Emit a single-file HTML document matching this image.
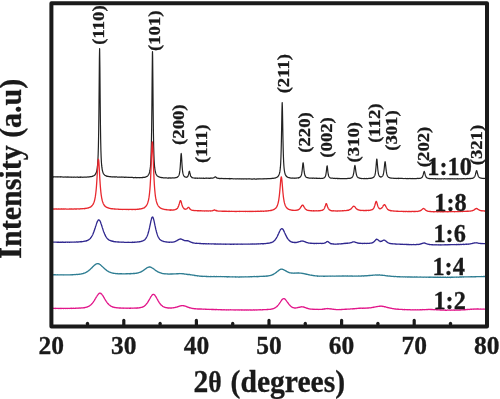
<!DOCTYPE html>
<html><head><meta charset="utf-8"><style>
html,body{margin:0;padding:0;background:#fff;}
body{width:500px;height:399px;overflow:hidden;}
svg{display:block;}
text{font-family:"Liberation Serif","Times New Roman",serif;font-weight:bold;fill:#1a1a1a;stroke:#1a1a1a;stroke-width:0.3px;}
.tk{font-size:25.5px;}
.hk{font-size:17px;}
.rt{font-size:24.3px;}
.ax{font-size:29.6px;}
</style></head><body>
<svg width="500" height="399" viewBox="0 0 500 399">
<rect x="0" y="0" width="500" height="399" fill="#fff"/>
<path d="M51.40 176.96 L51.65 176.60 L51.90 176.83 L52.15 176.75 L52.40 176.76 L52.65 176.78 L52.90 176.64 L53.15 176.78 L53.40 176.73 L53.65 177.07 L53.90 176.82 L54.15 176.78 L54.40 176.79 L54.65 176.76 L54.90 176.74 L55.15 176.79 L55.40 176.87 L55.65 176.82 L55.90 176.92 L56.15 176.83 L56.40 176.85 L56.65 176.98 L56.90 176.91 L57.15 176.83 L57.40 176.86 L57.65 176.92 L57.90 177.04 L58.15 176.87 L58.40 176.88 L58.65 176.98 L58.90 176.83 L59.15 176.89 L59.40 176.99 L59.65 176.97 L59.90 176.93 L60.15 176.99 L60.40 176.71 L60.65 177.02 L60.90 176.87 L61.15 176.82 L61.40 176.98 L61.65 177.02 L61.90 176.93 L62.15 176.89 L62.40 176.98 L62.65 176.98 L62.90 177.10 L63.15 177.05 L63.40 177.02 L63.65 177.09 L63.90 176.99 L64.15 176.94 L64.40 177.07 L64.65 177.07 L64.90 177.01 L65.15 176.97 L65.40 177.06 L65.65 176.85 L65.90 177.11 L66.15 177.10 L66.40 176.93 L66.65 177.07 L66.90 176.99 L67.15 177.14 L67.40 176.92 L67.65 177.01 L67.90 177.15 L68.15 177.19 L68.40 176.93 L68.65 177.06 L68.90 177.14 L69.15 177.07 L69.40 177.25 L69.65 177.03 L69.90 177.16 L70.15 177.05 L70.40 177.25 L70.65 177.14 L70.90 177.12 L71.15 177.01 L71.40 177.29 L71.65 177.22 L71.90 177.22 L72.15 177.26 L72.40 177.20 L72.65 177.13 L72.90 177.12 L73.15 177.12 L73.40 177.30 L73.65 177.08 L73.90 177.15 L74.15 177.17 L74.40 177.22 L74.65 177.25 L74.90 177.10 L75.15 177.06 L75.40 177.20 L75.65 177.30 L75.90 177.26 L76.15 177.22 L76.40 177.18 L76.65 177.23 L76.90 177.18 L77.15 177.27 L77.40 177.14 L77.65 177.21 L77.90 177.19 L78.15 177.25 L78.40 177.22 L78.65 177.41 L78.90 177.32 L79.15 177.32 L79.40 177.04 L79.65 177.17 L79.90 177.15 L80.15 177.24 L80.40 177.01 L80.65 177.29 L80.90 177.28 L81.15 177.08 L81.40 177.11 L81.65 177.12 L81.90 177.18 L82.15 177.23 L82.40 177.34 L82.65 177.16 L82.90 177.23 L83.15 177.18 L83.40 177.30 L83.65 177.22 L83.90 177.26 L84.15 177.06 L84.40 177.13 L84.65 177.07 L84.90 177.25 L85.15 177.17 L85.40 177.09 L85.65 177.07 L85.90 177.14 L86.15 177.03 L86.40 177.01 L86.65 177.11 L86.90 177.26 L87.15 177.03 L87.40 176.99 L87.65 176.93 L87.90 176.90 L88.15 177.03 L88.40 177.03 L88.65 176.94 L88.90 176.95 L89.15 176.90 L89.40 176.88 L89.65 176.71 L89.90 176.77 L90.15 176.78 L90.40 176.67 L90.65 176.66 L90.90 176.59 L91.15 176.58 L91.40 176.62 L91.65 176.47 L91.90 176.43 L92.15 176.44 L92.40 176.35 L92.65 176.36 L92.90 175.96 L93.15 176.10 L93.40 175.88 L93.65 175.80 L93.90 175.72 L94.15 175.58 L94.40 175.39 L94.65 175.11 L94.90 174.98 L95.15 174.54 L95.40 174.22 L95.65 173.89 L95.90 173.31 L96.15 172.95 L96.40 172.14 L96.65 171.35 L96.90 170.05 L97.15 168.57 L97.40 166.69 L97.65 164.12 L97.90 160.28 L98.15 154.81 L98.40 146.24 L98.65 133.10 L98.90 112.92 L99.15 85.77 L99.40 58.05 L99.60 48.60 L99.65 49.23 L99.90 68.02 L100.15 97.31 L100.40 121.96 L100.65 138.98 L100.90 150.15 L101.15 157.39 L101.40 161.98 L101.65 165.19 L101.90 167.46 L102.15 169.06 L102.40 170.55 L102.65 171.36 L102.90 172.36 L103.15 172.96 L103.40 173.58 L103.65 173.93 L103.90 174.23 L104.15 174.64 L104.40 174.83 L104.65 175.08 L104.90 175.30 L105.15 175.45 L105.40 175.60 L105.65 175.68 L105.90 175.84 L106.15 175.79 L106.40 176.04 L106.65 176.04 L106.90 176.30 L107.15 176.37 L107.40 176.18 L107.65 176.40 L107.90 176.43 L108.15 176.40 L108.40 176.56 L108.65 176.52 L108.90 176.45 L109.15 176.60 L109.40 176.64 L109.65 176.69 L109.90 176.60 L110.15 176.78 L110.40 176.81 L110.65 176.67 L110.90 176.73 L111.15 176.79 L111.40 176.77 L111.65 176.97 L111.90 176.86 L112.15 176.78 L112.40 176.80 L112.65 176.87 L112.90 177.07 L113.15 176.88 L113.40 176.92 L113.65 176.96 L113.90 176.92 L114.15 177.11 L114.40 176.89 L114.65 177.00 L114.90 176.96 L115.15 177.00 L115.40 176.86 L115.65 177.10 L115.90 176.96 L116.15 176.97 L116.40 176.90 L116.65 176.92 L116.90 177.02 L117.15 177.06 L117.40 177.05 L117.65 177.08 L117.90 177.05 L118.15 176.99 L118.40 177.06 L118.65 177.04 L118.90 176.99 L119.15 177.06 L119.40 177.10 L119.65 177.02 L119.90 176.97 L120.15 177.07 L120.40 177.17 L120.65 177.02 L120.90 177.04 L121.15 177.05 L121.40 177.17 L121.65 176.94 L121.90 177.13 L122.15 177.20 L122.40 177.06 L122.65 177.25 L122.90 177.19 L123.15 177.11 L123.40 177.18 L123.65 177.06 L123.90 177.15 L124.15 177.35 L124.40 177.14 L124.65 177.37 L124.90 177.23 L125.15 177.33 L125.40 177.26 L125.65 177.09 L125.90 177.23 L126.15 177.31 L126.40 177.21 L126.65 177.20 L126.90 177.35 L127.15 177.28 L127.40 177.21 L127.65 177.30 L127.90 177.43 L128.15 177.33 L128.40 177.46 L128.65 177.51 L128.90 177.40 L129.15 177.32 L129.40 177.32 L129.65 177.43 L129.90 177.51 L130.15 177.47 L130.40 177.50 L130.65 177.43 L130.90 177.50 L131.15 177.45 L131.40 177.47 L131.65 177.40 L131.90 177.38 L132.15 177.48 L132.40 177.44 L132.65 177.46 L132.90 177.60 L133.15 177.54 L133.40 177.79 L133.65 177.64 L133.90 177.52 L134.15 177.64 L134.40 177.61 L134.65 177.54 L134.90 177.69 L135.15 177.54 L135.40 177.36 L135.65 177.68 L135.90 177.57 L136.15 177.74 L136.40 177.58 L136.65 177.54 L136.90 177.76 L137.15 177.55 L137.40 177.66 L137.65 177.76 L137.90 177.66 L138.15 177.64 L138.40 177.66 L138.65 177.72 L138.90 177.59 L139.15 177.70 L139.40 177.69 L139.65 177.83 L139.90 177.62 L140.15 177.57 L140.40 177.69 L140.65 177.60 L140.90 177.65 L141.15 177.63 L141.40 177.70 L141.65 177.54 L141.90 177.58 L142.15 177.37 L142.40 177.48 L142.65 177.66 L142.90 177.46 L143.15 177.44 L143.40 177.37 L143.65 177.49 L143.90 177.43 L144.15 177.28 L144.40 177.38 L144.65 177.29 L144.90 177.28 L145.15 177.10 L145.40 177.22 L145.65 177.03 L145.90 176.90 L146.15 176.77 L146.40 176.68 L146.65 176.64 L146.90 176.41 L147.15 176.36 L147.40 176.13 L147.65 175.97 L147.90 175.68 L148.15 175.31 L148.40 174.81 L148.65 174.57 L148.90 174.11 L149.15 173.44 L149.40 172.71 L149.65 171.68 L149.90 170.47 L150.15 168.83 L150.40 166.89 L150.65 163.84 L150.90 159.51 L151.15 152.98 L151.40 143.04 L151.65 127.68 L151.90 104.89 L152.15 76.27 L152.40 53.96 L152.50 51.50 L152.65 56.90 L152.90 82.21 L153.15 110.10 L153.40 131.25 L153.65 145.50 L153.90 154.56 L154.15 160.68 L154.40 164.54 L154.65 167.44 L154.90 169.12 L155.15 170.85 L155.40 172.03 L155.65 172.84 L155.90 173.63 L156.15 174.25 L156.40 174.72 L156.65 175.04 L156.90 175.41 L157.15 175.80 L157.40 176.06 L157.65 176.18 L157.90 176.36 L158.15 176.54 L158.40 176.75 L158.65 176.70 L158.90 176.79 L159.15 177.01 L159.40 177.00 L159.65 177.12 L159.90 177.25 L160.15 177.34 L160.40 177.28 L160.65 177.48 L160.90 177.32 L161.15 177.55 L161.40 177.43 L161.65 177.49 L161.90 177.68 L162.15 177.62 L162.40 177.62 L162.65 177.68 L162.90 177.78 L163.15 177.76 L163.40 177.78 L163.65 177.89 L163.90 177.77 L164.15 177.81 L164.40 177.82 L164.65 177.97 L164.90 177.97 L165.15 178.01 L165.40 177.91 L165.65 177.92 L165.90 178.01 L166.15 177.92 L166.40 178.02 L166.65 178.02 L166.90 177.92 L167.15 177.98 L167.40 177.98 L167.65 178.13 L167.90 178.21 L168.15 178.00 L168.40 178.01 L168.65 177.83 L168.90 178.03 L169.15 178.02 L169.40 177.94 L169.65 178.09 L169.90 177.90 L170.15 178.01 L170.40 178.03 L170.65 177.92 L170.90 178.09 L171.15 178.10 L171.40 177.90 L171.65 177.90 L171.90 178.05 L172.15 177.99 L172.40 177.89 L172.65 177.95 L172.90 177.95 L173.15 177.94 L173.40 178.00 L173.65 177.95 L173.90 178.04 L174.15 177.99 L174.40 177.91 L174.65 177.91 L174.90 177.90 L175.15 177.82 L175.40 177.62 L175.65 177.74 L175.90 177.63 L176.15 177.69 L176.40 177.50 L176.65 177.45 L176.90 177.34 L177.15 177.34 L177.40 177.08 L177.65 176.88 L177.90 176.73 L178.15 176.43 L178.40 176.18 L178.65 175.77 L178.90 175.29 L179.15 174.74 L179.40 173.61 L179.65 172.32 L179.90 170.43 L180.15 167.91 L180.40 164.28 L180.65 160.07 L180.90 155.91 L181.15 153.57 L181.20 153.50 L181.40 154.63 L181.65 158.27 L181.90 162.77 L182.15 166.66 L182.40 169.50 L182.65 171.62 L182.90 173.15 L183.15 174.11 L183.40 174.92 L183.65 175.49 L183.90 175.95 L184.15 176.24 L184.40 176.39 L184.65 176.78 L184.90 176.97 L185.15 176.94 L185.40 177.08 L185.65 177.13 L185.90 177.21 L186.15 177.05 L186.40 177.30 L186.65 177.10 L186.90 177.17 L187.15 176.97 L187.40 176.77 L187.65 176.55 L187.90 176.27 L188.15 175.60 L188.40 174.90 L188.65 173.90 L188.90 172.62 L189.15 171.66 L189.40 171.20 L189.65 171.69 L189.90 172.91 L190.15 173.96 L190.40 175.06 L190.65 175.98 L190.90 176.49 L191.15 176.63 L191.40 176.83 L191.65 177.23 L191.90 177.55 L192.15 177.55 L192.40 177.66 L192.65 177.81 L192.90 177.75 L193.15 177.89 L193.40 177.98 L193.65 177.99 L193.90 178.02 L194.15 177.97 L194.40 178.08 L194.65 178.03 L194.90 178.18 L195.15 178.30 L195.40 178.05 L195.65 177.95 L195.90 178.10 L196.15 178.17 L196.40 178.24 L196.65 178.25 L196.90 178.10 L197.15 178.11 L197.40 178.28 L197.65 178.10 L197.90 178.28 L198.15 178.18 L198.40 178.26 L198.65 178.26 L198.90 178.27 L199.15 178.28 L199.40 178.14 L199.65 178.24 L199.90 178.22 L200.15 178.25 L200.40 178.32 L200.65 178.20 L200.90 178.17 L201.15 178.17 L201.40 178.21 L201.65 178.29 L201.90 178.17 L202.15 178.33 L202.40 178.26 L202.65 178.22 L202.90 178.13 L203.15 178.26 L203.40 178.29 L203.65 178.10 L203.90 178.33 L204.15 178.37 L204.40 178.27 L204.65 178.28 L204.90 178.43 L205.15 178.34 L205.40 178.17 L205.65 178.24 L205.90 178.22 L206.15 178.22 L206.40 178.05 L206.65 178.29 L206.90 178.18 L207.15 178.24 L207.40 178.22 L207.65 178.30 L207.90 178.20 L208.15 178.16 L208.40 178.27 L208.65 178.33 L208.90 178.19 L209.15 178.32 L209.40 178.23 L209.65 178.16 L209.90 178.32 L210.15 178.14 L210.40 178.28 L210.65 178.16 L210.90 178.24 L211.15 178.10 L211.40 178.13 L211.65 178.27 L211.90 178.20 L212.15 178.17 L212.40 178.12 L212.65 178.16 L212.90 177.98 L213.15 177.96 L213.40 177.97 L213.65 177.82 L213.90 177.71 L214.15 177.60 L214.40 177.39 L214.65 177.16 L214.90 177.10 L215.15 176.82 L215.30 176.80 L215.40 176.81 L215.65 176.91 L215.90 177.05 L216.15 177.37 L216.40 177.45 L216.65 177.75 L216.90 178.01 L217.15 178.18 L217.40 178.22 L217.65 178.13 L217.90 178.29 L218.15 178.22 L218.40 178.38 L218.65 178.33 L218.90 178.43 L219.15 178.59 L219.40 178.47 L219.65 178.60 L219.90 178.44 L220.15 178.41 L220.40 178.56 L220.65 178.60 L220.90 178.43 L221.15 178.49 L221.40 178.38 L221.65 178.48 L221.90 178.58 L222.15 178.51 L222.40 178.48 L222.65 178.42 L222.90 178.57 L223.15 178.61 L223.40 178.60 L223.65 178.58 L223.90 178.47 L224.15 178.72 L224.40 178.58 L224.65 178.58 L224.90 178.66 L225.15 178.43 L225.40 178.60 L225.65 178.60 L225.90 178.65 L226.15 178.74 L226.40 178.67 L226.65 178.49 L226.90 178.62 L227.15 178.67 L227.40 178.67 L227.65 178.56 L227.90 178.53 L228.15 178.72 L228.40 178.71 L228.65 178.68 L228.90 178.55 L229.15 178.84 L229.40 178.47 L229.65 178.68 L229.90 178.88 L230.15 178.71 L230.40 178.74 L230.65 178.63 L230.90 178.84 L231.15 178.64 L231.40 178.77 L231.65 178.76 L231.90 178.67 L232.15 178.83 L232.40 178.65 L232.65 178.72 L232.90 178.77 L233.15 178.75 L233.40 178.82 L233.65 178.87 L233.90 178.77 L234.15 178.76 L234.40 178.76 L234.65 178.78 L234.90 178.88 L235.15 178.80 L235.40 178.85 L235.65 178.81 L235.90 178.75 L236.15 178.89 L236.40 178.74 L236.65 178.83 L236.90 178.95 L237.15 178.75 L237.40 178.83 L237.65 178.71 L237.90 178.80 L238.15 178.73 L238.40 178.82 L238.65 178.81 L238.90 178.87 L239.15 178.98 L239.40 178.88 L239.65 178.92 L239.90 178.86 L240.15 178.85 L240.40 178.80 L240.65 178.73 L240.90 178.88 L241.15 179.01 L241.40 178.92 L241.65 178.84 L241.90 179.02 L242.15 178.86 L242.40 178.84 L242.65 178.80 L242.90 178.82 L243.15 178.88 L243.40 179.06 L243.65 178.89 L243.90 178.83 L244.15 178.86 L244.40 178.90 L244.65 178.78 L244.90 178.93 L245.15 178.98 L245.40 178.95 L245.65 178.97 L245.90 178.82 L246.15 178.79 L246.40 179.04 L246.65 179.02 L246.90 178.81 L247.15 178.96 L247.40 178.94 L247.65 178.99 L247.90 178.96 L248.15 178.91 L248.40 178.97 L248.65 178.97 L248.90 178.95 L249.15 178.81 L249.40 178.72 L249.65 178.90 L249.90 178.84 L250.15 178.99 L250.40 179.03 L250.65 178.99 L250.90 178.95 L251.15 178.98 L251.40 179.07 L251.65 178.92 L251.90 179.06 L252.15 179.04 L252.40 179.01 L252.65 179.11 L252.90 178.93 L253.15 179.07 L253.40 178.92 L253.65 178.94 L253.90 178.91 L254.15 179.03 L254.40 178.92 L254.65 178.99 L254.90 178.90 L255.15 179.07 L255.40 179.13 L255.65 178.99 L255.90 179.10 L256.15 179.01 L256.40 179.14 L256.65 178.97 L256.90 178.83 L257.15 179.07 L257.40 178.94 L257.65 178.86 L257.90 178.89 L258.15 178.80 L258.40 178.92 L258.65 178.84 L258.90 179.04 L259.15 178.97 L259.40 178.78 L259.65 178.79 L259.90 178.86 L260.15 178.74 L260.40 178.88 L260.65 178.88 L260.90 178.82 L261.15 178.83 L261.40 178.91 L261.65 178.98 L261.90 178.98 L262.15 178.86 L262.40 178.92 L262.65 178.79 L262.90 178.87 L263.15 178.76 L263.40 178.88 L263.65 178.72 L263.90 178.74 L264.15 178.81 L264.40 178.85 L264.65 178.68 L264.90 178.74 L265.15 178.79 L265.40 178.79 L265.65 178.70 L265.90 178.76 L266.15 178.73 L266.40 178.85 L266.65 178.78 L266.90 178.62 L267.15 178.54 L267.40 178.71 L267.65 178.79 L267.90 178.70 L268.15 178.75 L268.40 178.62 L268.65 178.54 L268.90 178.70 L269.15 178.64 L269.40 178.67 L269.65 178.49 L269.90 178.60 L270.15 178.52 L270.40 178.62 L270.65 178.49 L270.90 178.47 L271.15 178.46 L271.40 178.59 L271.65 178.47 L271.90 178.38 L272.15 178.34 L272.40 178.31 L272.65 178.48 L272.90 178.19 L273.15 178.24 L273.40 178.32 L273.65 178.33 L273.90 178.19 L274.15 178.22 L274.40 178.17 L274.65 178.14 L274.90 178.01 L275.15 178.07 L275.40 177.89 L275.65 177.92 L275.90 177.63 L276.15 177.70 L276.40 177.42 L276.65 177.28 L276.90 177.31 L277.15 177.05 L277.40 176.97 L277.65 176.64 L277.90 176.62 L278.15 176.21 L278.40 175.78 L278.65 175.48 L278.90 175.04 L279.15 174.29 L279.40 173.63 L279.65 172.78 L279.90 171.41 L280.15 169.62 L280.40 167.18 L280.65 163.82 L280.90 158.58 L281.15 151.03 L281.40 140.62 L281.65 126.64 L281.90 111.90 L282.15 102.89 L282.20 102.60 L282.40 106.95 L282.65 120.60 L282.90 135.37 L283.15 147.38 L283.40 156.02 L283.65 161.94 L283.90 165.96 L284.15 168.71 L284.40 170.76 L284.65 172.22 L284.90 173.02 L285.15 174.20 L285.40 174.66 L285.65 175.28 L285.90 175.55 L286.15 175.99 L286.40 176.28 L286.65 176.52 L286.90 176.79 L287.15 176.96 L287.40 176.98 L287.65 177.19 L287.90 177.37 L288.15 177.47 L288.40 177.48 L288.65 177.56 L288.90 177.64 L289.15 177.63 L289.40 177.67 L289.65 177.95 L289.90 177.83 L290.15 177.91 L290.40 177.88 L290.65 178.07 L290.90 178.14 L291.15 178.01 L291.40 178.09 L291.65 178.01 L291.90 178.22 L292.15 178.17 L292.40 178.05 L292.65 178.22 L292.90 178.16 L293.15 178.17 L293.40 178.18 L293.65 178.10 L293.90 178.11 L294.15 178.21 L294.40 178.15 L294.65 178.08 L294.90 178.32 L295.15 178.13 L295.40 178.10 L295.65 178.08 L295.90 178.18 L296.15 178.19 L296.40 178.12 L296.65 178.15 L296.90 177.94 L297.15 178.01 L297.40 177.98 L297.65 177.98 L297.90 177.98 L298.15 177.74 L298.40 178.10 L298.65 177.72 L298.90 177.75 L299.15 177.71 L299.40 177.61 L299.65 177.44 L299.90 177.04 L300.15 177.00 L300.40 176.92 L300.65 176.49 L300.90 176.08 L301.15 175.45 L301.40 175.00 L301.65 173.93 L301.90 172.41 L302.15 170.60 L302.40 168.23 L302.65 165.51 L302.90 163.44 L303.10 162.80 L303.15 162.84 L303.40 164.18 L303.65 166.65 L303.90 169.20 L304.15 171.45 L304.40 173.04 L304.65 174.22 L304.90 175.30 L305.15 175.82 L305.40 176.33 L305.65 176.73 L305.90 176.85 L306.15 177.20 L306.40 177.35 L306.65 177.44 L306.90 177.59 L307.15 177.59 L307.40 177.55 L307.65 177.77 L307.90 177.78 L308.15 177.97 L308.40 177.96 L308.65 177.93 L308.90 178.01 L309.15 178.14 L309.40 178.14 L309.65 178.10 L309.90 178.13 L310.15 178.09 L310.40 178.11 L310.65 178.18 L310.90 178.14 L311.15 178.18 L311.40 178.07 L311.65 178.04 L311.90 178.04 L312.15 178.15 L312.40 178.29 L312.65 178.28 L312.90 178.11 L313.15 178.07 L313.40 178.26 L313.65 178.24 L313.90 178.09 L314.15 178.29 L314.40 178.22 L314.65 178.31 L314.90 178.23 L315.15 178.28 L315.40 178.25 L315.65 178.17 L315.90 178.24 L316.15 178.22 L316.40 178.35 L316.65 178.22 L316.90 178.19 L317.15 178.38 L317.40 178.43 L317.65 178.46 L317.90 178.45 L318.15 178.25 L318.40 178.32 L318.65 178.35 L318.90 178.40 L319.15 178.23 L319.40 178.41 L319.65 178.44 L319.90 178.35 L320.15 178.44 L320.40 178.53 L320.65 178.44 L320.90 178.52 L321.15 178.51 L321.40 178.46 L321.65 178.45 L321.90 178.38 L322.15 178.48 L322.40 178.31 L322.65 178.24 L322.90 178.31 L323.15 178.13 L323.40 178.15 L323.65 178.12 L323.90 177.94 L324.15 177.81 L324.40 177.72 L324.65 177.50 L324.90 177.04 L325.15 176.69 L325.40 176.39 L325.65 175.57 L325.90 174.31 L326.15 172.87 L326.40 170.97 L326.65 168.49 L326.90 166.46 L327.10 165.80 L327.15 165.84 L327.40 167.18 L327.65 169.58 L327.90 171.97 L328.15 173.55 L328.40 175.02 L328.65 175.91 L328.90 176.51 L329.15 176.90 L329.40 177.13 L329.65 177.39 L329.90 177.70 L330.15 177.86 L330.40 177.99 L330.65 178.05 L330.90 178.12 L331.15 178.07 L331.40 178.06 L331.65 178.21 L331.90 178.27 L332.15 178.27 L332.40 178.17 L332.65 178.27 L332.90 178.21 L333.15 178.35 L333.40 178.27 L333.65 178.35 L333.90 178.40 L334.15 178.39 L334.40 178.50 L334.65 178.31 L334.90 178.23 L335.15 178.49 L335.40 178.53 L335.65 178.55 L335.90 178.47 L336.15 178.50 L336.40 178.47 L336.65 178.37 L336.90 178.43 L337.15 178.53 L337.40 178.45 L337.65 178.65 L337.90 178.39 L338.15 178.48 L338.40 178.61 L338.65 178.48 L338.90 178.44 L339.15 178.43 L339.40 178.49 L339.65 178.67 L339.90 178.59 L340.15 178.60 L340.40 178.52 L340.65 178.64 L340.90 178.58 L341.15 178.50 L341.40 178.55 L341.65 178.60 L341.90 178.68 L342.15 178.59 L342.40 178.63 L342.65 178.76 L342.90 178.53 L343.15 178.50 L343.40 178.68 L343.65 178.64 L343.90 178.60 L344.15 178.63 L344.40 178.58 L344.65 178.65 L344.90 178.58 L345.15 178.66 L345.40 178.50 L345.65 178.52 L345.90 178.59 L346.15 178.54 L346.40 178.62 L346.65 178.55 L346.90 178.50 L347.15 178.55 L347.40 178.48 L347.65 178.38 L347.90 178.40 L348.15 178.41 L348.40 178.41 L348.65 178.44 L348.90 178.47 L349.15 178.42 L349.40 178.48 L349.65 178.40 L349.90 178.24 L350.15 178.34 L350.40 178.24 L350.65 178.04 L350.90 178.02 L351.15 177.98 L351.40 177.79 L351.65 177.71 L351.90 177.48 L352.15 177.29 L352.40 176.92 L352.65 176.60 L352.90 176.04 L353.15 175.45 L353.40 174.36 L353.65 173.32 L353.90 171.85 L354.15 169.91 L354.40 167.82 L354.65 166.10 L354.90 165.40 L355.15 166.10 L355.40 167.80 L355.65 169.86 L355.90 171.83 L356.15 173.23 L356.40 174.58 L356.65 175.27 L356.90 176.01 L357.15 176.57 L357.40 177.04 L357.65 177.19 L357.90 177.29 L358.15 177.67 L358.40 177.78 L358.65 177.82 L358.90 177.92 L359.15 178.03 L359.40 178.16 L359.65 178.27 L359.90 178.15 L360.15 178.50 L360.40 178.35 L360.65 178.36 L360.90 178.47 L361.15 178.45 L361.40 178.65 L361.65 178.57 L361.90 178.47 L362.15 178.49 L362.40 178.49 L362.65 178.52 L362.90 178.61 L363.15 178.51 L363.40 178.70 L363.65 178.57 L363.90 178.57 L364.15 178.67 L364.40 178.44 L364.65 178.52 L364.90 178.65 L365.15 178.60 L365.40 178.60 L365.65 178.64 L365.90 178.56 L366.15 178.59 L366.40 178.49 L366.65 178.44 L366.90 178.68 L367.15 178.50 L367.40 178.50 L367.65 178.66 L367.90 178.62 L368.15 178.48 L368.40 178.47 L368.65 178.49 L368.90 178.40 L369.15 178.50 L369.40 178.45 L369.65 178.43 L369.90 178.45 L370.15 178.42 L370.40 178.48 L370.65 178.42 L370.90 178.12 L371.15 178.29 L371.40 178.08 L371.65 178.00 L371.90 178.11 L372.15 177.92 L372.40 177.87 L372.65 177.88 L372.90 177.63 L373.15 177.47 L373.40 177.41 L373.65 177.28 L373.90 176.98 L374.15 176.50 L374.40 176.17 L374.65 175.68 L374.90 175.13 L375.15 174.05 L375.40 172.68 L375.65 170.84 L375.90 168.24 L376.15 165.22 L376.40 161.94 L376.65 159.47 L376.80 159.00 L376.90 159.20 L377.15 161.17 L377.40 164.50 L377.65 167.64 L377.90 170.24 L378.15 172.04 L378.40 173.53 L378.65 174.65 L378.90 175.32 L379.15 175.71 L379.40 176.17 L379.65 176.54 L379.90 176.61 L380.15 176.79 L380.40 177.06 L380.65 176.91 L380.90 176.92 L381.15 176.83 L381.40 176.81 L381.65 176.89 L381.90 176.63 L382.15 176.37 L382.40 176.13 L382.65 175.87 L382.90 175.46 L383.15 174.70 L383.40 173.95 L383.65 172.68 L383.90 171.19 L384.15 169.20 L384.40 166.79 L384.65 164.18 L384.90 162.26 L385.10 161.70 L385.15 161.74 L385.40 162.94 L385.65 165.30 L385.90 167.90 L386.15 170.10 L386.40 171.94 L386.65 173.39 L386.90 174.39 L387.15 175.23 L387.40 175.88 L387.65 176.32 L387.90 176.56 L388.15 176.89 L388.40 176.96 L388.65 177.37 L388.90 177.41 L389.15 177.59 L389.40 177.59 L389.65 177.75 L389.90 177.87 L390.15 177.98 L390.40 177.85 L390.65 178.07 L390.90 178.03 L391.15 178.02 L391.40 178.16 L391.65 178.12 L391.90 178.15 L392.15 178.14 L392.40 178.24 L392.65 178.24 L392.90 178.24 L393.15 178.19 L393.40 178.24 L393.65 178.33 L393.90 178.41 L394.15 178.31 L394.40 178.44 L394.65 178.33 L394.90 178.25 L395.15 178.40 L395.40 178.28 L395.65 178.39 L395.90 178.45 L396.15 178.34 L396.40 178.37 L396.65 178.57 L396.90 178.40 L397.15 178.40 L397.40 178.45 L397.65 178.38 L397.90 178.38 L398.15 178.42 L398.40 178.20 L398.65 178.51 L398.90 178.31 L399.15 178.31 L399.40 178.44 L399.65 178.40 L399.90 178.30 L400.15 178.42 L400.40 178.32 L400.65 178.36 L400.90 178.30 L401.15 178.36 L401.40 178.47 L401.65 178.45 L401.90 178.47 L402.15 178.53 L402.40 178.46 L402.65 178.41 L402.90 178.45 L403.15 178.61 L403.40 178.48 L403.65 178.51 L403.90 178.48 L404.15 178.52 L404.40 178.54 L404.65 178.51 L404.90 178.50 L405.15 178.45 L405.40 178.45 L405.65 178.56 L405.90 178.59 L406.15 178.61 L406.40 178.55 L406.65 178.48 L406.90 178.60 L407.15 178.60 L407.40 178.44 L407.65 178.63 L407.90 178.61 L408.15 178.70 L408.40 178.48 L408.65 178.48 L408.90 178.65 L409.15 178.44 L409.40 178.53 L409.65 178.51 L409.90 178.52 L410.15 178.45 L410.40 178.58 L410.65 178.68 L410.90 178.64 L411.15 178.64 L411.40 178.57 L411.65 178.72 L411.90 178.64 L412.15 178.69 L412.40 178.48 L412.65 178.63 L412.90 178.51 L413.15 178.63 L413.40 178.61 L413.65 178.51 L413.90 178.61 L414.15 178.69 L414.40 178.63 L414.65 178.64 L414.90 178.52 L415.15 178.53 L415.40 178.49 L415.65 178.59 L415.90 178.67 L416.15 178.60 L416.40 178.56 L416.65 178.46 L416.90 178.58 L417.15 178.52 L417.40 178.38 L417.65 178.38 L417.90 178.48 L418.15 178.42 L418.40 178.61 L418.65 178.46 L418.90 178.35 L419.15 178.37 L419.40 178.51 L419.65 178.27 L419.90 178.37 L420.15 178.30 L420.40 178.32 L420.65 178.18 L420.90 178.03 L421.15 178.00 L421.40 177.84 L421.65 177.75 L421.90 177.46 L422.15 177.34 L422.40 176.81 L422.65 176.37 L422.90 175.65 L423.15 174.90 L423.40 173.91 L423.65 172.85 L423.90 171.96 L424.15 171.41 L424.20 171.40 L424.40 171.63 L424.65 172.41 L424.90 173.44 L425.15 174.62 L425.40 175.47 L425.65 175.91 L425.90 176.63 L426.15 177.14 L426.40 177.45 L426.65 177.58 L426.90 177.93 L427.15 177.89 L427.40 178.04 L427.65 178.16 L427.90 178.23 L428.15 178.35 L428.40 178.42 L428.65 178.39 L428.90 178.54 L429.15 178.41 L429.40 178.47 L429.65 178.65 L429.90 178.55 L430.15 178.65 L430.40 178.54 L430.65 178.57 L430.90 178.60 L431.15 178.64 L431.40 178.61 L431.65 178.65 L431.90 178.71 L432.15 178.76 L432.40 178.68 L432.65 178.74 L432.90 178.76 L433.15 178.61 L433.40 178.58 L433.65 178.84 L433.90 178.82 L434.15 178.73 L434.40 178.76 L434.65 178.66 L434.90 178.63 L435.15 178.77 L435.40 178.63 L435.65 178.82 L435.90 178.70 L436.15 178.78 L436.40 178.92 L436.65 178.92 L436.90 178.75 L437.15 178.86 L437.40 178.69 L437.65 178.73 L437.90 178.81 L438.15 178.89 L438.40 178.74 L438.65 178.83 L438.90 178.80 L439.15 178.69 L439.40 178.79 L439.65 178.92 L439.90 178.79 L440.15 178.84 L440.40 178.87 L440.65 178.75 L440.90 178.90 L441.15 178.93 L441.40 178.93 L441.65 178.91 L441.90 178.77 L442.15 178.76 L442.40 178.75 L442.65 178.74 L442.90 178.75 L443.15 178.89 L443.40 178.93 L443.65 178.76 L443.90 178.88 L444.15 178.71 L444.40 178.79 L444.65 178.73 L444.90 178.68 L445.15 178.82 L445.40 178.82 L445.65 178.78 L445.90 178.77 L446.15 178.74 L446.40 178.80 L446.65 178.77 L446.90 178.83 L447.15 178.72 L447.40 178.83 L447.65 178.86 L447.90 178.92 L448.15 178.90 L448.40 178.83 L448.65 178.76 L448.90 178.67 L449.15 178.82 L449.40 178.93 L449.65 178.95 L449.90 178.61 L450.15 178.76 L450.40 178.79 L450.65 178.73 L450.90 178.83 L451.15 178.82 L451.40 178.77 L451.65 178.81 L451.90 178.69 L452.15 178.74 L452.40 178.74 L452.65 178.89 L452.90 178.69 L453.15 178.80 L453.40 178.88 L453.65 178.81 L453.90 178.88 L454.15 178.76 L454.40 178.85 L454.65 178.89 L454.90 178.99 L455.15 178.87 L455.40 178.93 L455.65 178.81 L455.90 178.82 L456.15 178.94 L456.40 178.86 L456.65 178.92 L456.90 178.87 L457.15 178.98 L457.40 179.00 L457.65 178.74 L457.90 178.96 L458.15 178.84 L458.40 178.85 L458.65 178.80 L458.90 178.86 L459.15 178.72 L459.40 178.75 L459.65 178.74 L459.90 178.83 L460.15 178.87 L460.40 178.86 L460.65 178.82 L460.90 178.74 L461.15 178.65 L461.40 178.81 L461.65 178.79 L461.90 178.80 L462.15 178.89 L462.40 178.75 L462.65 178.75 L462.90 178.57 L463.15 178.80 L463.40 178.75 L463.65 178.69 L463.90 178.77 L464.15 178.65 L464.40 178.69 L464.65 178.88 L464.90 178.78 L465.15 178.79 L465.40 178.77 L465.65 178.76 L465.90 178.71 L466.15 178.87 L466.40 178.68 L466.65 178.74 L466.90 178.65 L467.15 178.63 L467.40 178.46 L467.65 178.49 L467.90 178.76 L468.15 178.74 L468.40 178.58 L468.65 178.60 L468.90 178.64 L469.15 178.49 L469.40 178.70 L469.65 178.46 L469.90 178.47 L470.15 178.28 L470.40 178.61 L470.65 178.46 L470.90 178.56 L471.15 178.32 L471.40 178.40 L471.65 178.34 L471.90 178.30 L472.15 178.40 L472.40 178.36 L472.65 178.22 L472.90 178.00 L473.15 178.01 L473.40 177.92 L473.65 177.72 L473.90 177.54 L474.15 177.30 L474.40 176.89 L474.65 176.60 L474.90 176.21 L475.15 175.37 L475.40 174.66 L475.65 173.77 L475.90 172.52 L476.15 171.57 L476.40 170.81 L476.60 170.60 L476.65 170.61 L476.90 171.06 L477.15 171.93 L477.40 173.03 L477.65 174.07 L477.90 174.78 L478.15 175.82 L478.40 176.24 L478.65 176.62 L478.90 177.00 L479.15 177.34 L479.40 177.44 L479.65 177.64 L479.90 177.77 L480.15 177.95 L480.40 177.93 L480.65 178.10 L480.90 178.15 L481.15 178.16 L481.40 178.32 L481.65 178.26 L481.90 178.19 L482.15 178.34 L482.40 178.35 L482.65 178.36 L482.90 178.40 L483.15 178.58 L483.40 178.43 L483.65 178.46 L483.90 178.41 L484.15 178.55 L484.40 178.45 L484.65 178.39 L484.90 178.37 L485.15 178.51 L485.40 178.54 L485.65 178.36 L485.90 178.43 L486.15 178.54 L486.40 178.58 L486.65 178.39 L486.90 178.47" fill="none" stroke="#222222" stroke-width="1.2" stroke-linejoin="round"/><path d="M51.40 209.06 L51.65 208.96 L51.90 208.97 L52.15 208.96 L52.40 208.91 L52.65 209.00 L52.90 209.02 L53.15 208.90 L53.40 209.01 L53.65 209.08 L53.90 209.01 L54.15 209.07 L54.40 208.96 L54.65 209.10 L54.90 208.95 L55.15 209.14 L55.40 208.98 L55.65 208.96 L55.90 208.95 L56.15 208.98 L56.40 208.98 L56.65 208.97 L56.90 208.99 L57.15 209.06 L57.40 209.08 L57.65 209.00 L57.90 209.11 L58.15 208.95 L58.40 208.95 L58.65 208.94 L58.90 209.07 L59.15 208.92 L59.40 208.93 L59.65 209.12 L59.90 209.15 L60.15 209.12 L60.40 208.93 L60.65 209.03 L60.90 209.09 L61.15 209.04 L61.40 208.92 L61.65 209.01 L61.90 208.92 L62.15 208.95 L62.40 209.19 L62.65 209.09 L62.90 208.94 L63.15 208.93 L63.40 209.07 L63.65 209.00 L63.90 209.08 L64.15 209.00 L64.40 209.03 L64.65 209.06 L64.90 208.97 L65.15 208.91 L65.40 208.96 L65.65 208.99 L65.90 209.03 L66.15 209.04 L66.40 209.04 L66.65 209.08 L66.90 208.98 L67.15 209.14 L67.40 209.18 L67.65 209.07 L67.90 209.05 L68.15 209.13 L68.40 209.08 L68.65 209.05 L68.90 209.03 L69.15 208.98 L69.40 208.95 L69.65 209.08 L69.90 209.12 L70.15 208.96 L70.40 209.03 L70.65 209.04 L70.90 209.00 L71.15 208.97 L71.40 209.00 L71.65 208.88 L71.90 209.02 L72.15 209.00 L72.40 209.16 L72.65 209.08 L72.90 208.99 L73.15 209.01 L73.40 209.13 L73.65 209.12 L73.90 209.01 L74.15 208.99 L74.40 208.89 L74.65 208.97 L74.90 208.98 L75.15 208.93 L75.40 209.10 L75.65 208.84 L75.90 208.96 L76.15 208.99 L76.40 208.99 L76.65 209.07 L76.90 208.85 L77.15 208.89 L77.40 208.95 L77.65 208.94 L77.90 208.90 L78.15 208.87 L78.40 208.99 L78.65 208.83 L78.90 208.86 L79.15 208.99 L79.40 209.00 L79.65 208.93 L79.90 208.80 L80.15 208.79 L80.40 208.77 L80.65 208.75 L80.90 208.79 L81.15 208.89 L81.40 208.80 L81.65 208.72 L81.90 208.70 L82.15 208.66 L82.40 208.81 L82.65 208.57 L82.90 208.71 L83.15 208.57 L83.40 208.58 L83.65 208.53 L83.90 208.67 L84.15 208.58 L84.40 208.75 L84.65 208.46 L84.90 208.42 L85.15 208.51 L85.40 208.48 L85.65 208.38 L85.90 208.23 L86.15 208.43 L86.40 208.33 L86.65 208.27 L86.90 208.15 L87.15 208.19 L87.40 208.05 L87.65 208.04 L87.90 207.96 L88.15 207.99 L88.40 207.80 L88.65 207.73 L88.90 207.75 L89.15 207.60 L89.40 207.49 L89.65 207.37 L89.90 207.33 L90.15 207.10 L90.40 207.04 L90.65 207.00 L90.90 206.72 L91.15 206.46 L91.40 206.24 L91.65 206.11 L91.90 205.78 L92.15 205.48 L92.40 205.24 L92.65 204.89 L92.90 204.65 L93.15 204.06 L93.40 203.80 L93.65 203.09 L93.90 202.53 L94.15 201.86 L94.40 201.01 L94.65 200.10 L94.90 198.88 L95.15 197.51 L95.40 196.15 L95.65 194.27 L95.90 192.26 L96.15 189.92 L96.40 186.96 L96.65 183.58 L96.90 179.72 L97.15 175.53 L97.40 171.04 L97.65 166.52 L97.90 162.81 L98.15 160.15 L98.40 159.20 L98.65 160.15 L98.90 162.87 L99.15 166.70 L99.40 171.07 L99.65 175.57 L99.90 179.86 L100.15 183.75 L100.40 187.08 L100.65 189.90 L100.90 192.37 L101.15 194.55 L101.40 196.10 L101.65 197.76 L101.90 198.95 L102.15 200.21 L102.40 201.03 L102.65 201.88 L102.90 202.53 L103.15 203.23 L103.40 203.83 L103.65 204.37 L103.90 204.60 L104.15 205.03 L104.40 205.68 L104.65 205.77 L104.90 205.98 L105.15 206.26 L105.40 206.26 L105.65 206.76 L105.90 206.84 L106.15 206.89 L106.40 207.23 L106.65 207.24 L106.90 207.34 L107.15 207.57 L107.40 207.67 L107.65 207.71 L107.90 207.83 L108.15 207.83 L108.40 207.91 L108.65 208.15 L108.90 208.25 L109.15 208.25 L109.40 208.31 L109.65 208.31 L109.90 208.38 L110.15 208.38 L110.40 208.61 L110.65 208.50 L110.90 208.61 L111.15 208.62 L111.40 208.56 L111.65 208.83 L111.90 208.70 L112.15 208.71 L112.40 208.80 L112.65 208.76 L112.90 208.85 L113.15 208.81 L113.40 208.94 L113.65 208.93 L113.90 208.85 L114.15 209.04 L114.40 209.00 L114.65 208.93 L114.90 209.06 L115.15 209.08 L115.40 209.20 L115.65 209.02 L115.90 209.16 L116.15 209.11 L116.40 209.17 L116.65 209.13 L116.90 209.15 L117.15 209.21 L117.40 209.10 L117.65 209.05 L117.90 209.21 L118.15 209.19 L118.40 209.24 L118.65 209.28 L118.90 209.23 L119.15 209.34 L119.40 209.27 L119.65 209.28 L119.90 209.34 L120.15 209.33 L120.40 209.30 L120.65 209.32 L120.90 209.26 L121.15 209.28 L121.40 209.34 L121.65 209.39 L121.90 209.31 L122.15 209.41 L122.40 209.49 L122.65 209.51 L122.90 209.36 L123.15 209.44 L123.40 209.42 L123.65 209.43 L123.90 209.44 L124.15 209.42 L124.40 209.45 L124.65 209.40 L124.90 209.38 L125.15 209.41 L125.40 209.43 L125.65 209.49 L125.90 209.43 L126.15 209.46 L126.40 209.51 L126.65 209.35 L126.90 209.41 L127.15 209.47 L127.40 209.44 L127.65 209.37 L127.90 209.52 L128.15 209.45 L128.40 209.39 L128.65 209.59 L128.90 209.37 L129.15 209.47 L129.40 209.42 L129.65 209.48 L129.90 209.52 L130.15 209.42 L130.40 209.47 L130.65 209.47 L130.90 209.41 L131.15 209.57 L131.40 209.50 L131.65 209.46 L131.90 209.44 L132.15 209.46 L132.40 209.49 L132.65 209.45 L132.90 209.57 L133.15 209.30 L133.40 209.32 L133.65 209.45 L133.90 209.34 L134.15 209.46 L134.40 209.41 L134.65 209.49 L134.90 209.47 L135.15 209.53 L135.40 209.49 L135.65 209.51 L135.90 209.44 L136.15 209.47 L136.40 209.41 L136.65 209.32 L136.90 209.26 L137.15 209.24 L137.40 209.34 L137.65 209.12 L137.90 209.28 L138.15 209.19 L138.40 209.27 L138.65 209.20 L138.90 209.11 L139.15 209.13 L139.40 208.94 L139.65 209.08 L139.90 209.06 L140.15 208.86 L140.40 209.00 L140.65 208.89 L140.90 208.86 L141.15 208.69 L141.40 208.78 L141.65 208.71 L141.90 208.61 L142.15 208.47 L142.40 208.51 L142.65 208.46 L142.90 208.31 L143.15 208.26 L143.40 208.04 L143.65 207.97 L143.90 207.86 L144.15 207.71 L144.40 207.74 L144.65 207.41 L144.90 207.16 L145.15 207.05 L145.40 206.69 L145.65 206.55 L145.90 206.30 L146.15 205.90 L146.40 205.57 L146.65 205.14 L146.90 204.77 L147.15 204.22 L147.40 203.82 L147.65 203.10 L147.90 202.29 L148.15 201.35 L148.40 200.59 L148.65 199.37 L148.90 197.94 L149.15 196.29 L149.40 194.35 L149.65 192.00 L149.90 189.39 L150.15 185.93 L150.40 181.81 L150.65 177.08 L150.90 171.35 L151.15 165.20 L151.40 158.33 L151.65 151.64 L151.90 145.98 L152.15 142.39 L152.30 141.80 L152.40 142.07 L152.65 145.00 L152.90 150.24 L153.15 156.98 L153.40 163.88 L153.65 170.45 L153.90 176.13 L154.15 181.07 L154.40 185.21 L154.65 188.69 L154.90 191.55 L155.15 193.99 L155.40 196.06 L155.65 197.75 L155.90 199.24 L156.15 200.45 L156.40 201.45 L156.65 202.22 L156.90 203.12 L157.15 203.84 L157.40 204.25 L157.65 204.78 L157.90 205.25 L158.15 205.65 L158.40 206.07 L158.65 206.35 L158.90 206.73 L159.15 206.88 L159.40 207.20 L159.65 207.38 L159.90 207.55 L160.15 207.87 L160.40 207.96 L160.65 208.14 L160.90 208.22 L161.15 208.42 L161.40 208.53 L161.65 208.59 L161.90 208.57 L162.15 208.85 L162.40 208.92 L162.65 208.97 L162.90 209.05 L163.15 209.11 L163.40 209.18 L163.65 209.16 L163.90 209.28 L164.15 209.37 L164.40 209.35 L164.65 209.37 L164.90 209.62 L165.15 209.57 L165.40 209.55 L165.65 209.57 L165.90 209.46 L166.15 209.58 L166.40 209.69 L166.65 209.83 L166.90 209.62 L167.15 209.74 L167.40 209.95 L167.65 209.89 L167.90 209.89 L168.15 209.96 L168.40 209.89 L168.65 209.90 L168.90 209.98 L169.15 210.01 L169.40 209.88 L169.65 210.08 L169.90 209.86 L170.15 209.94 L170.40 210.21 L170.65 209.97 L170.90 210.05 L171.15 209.94 L171.40 209.99 L171.65 209.96 L171.90 209.98 L172.15 210.04 L172.40 210.11 L172.65 210.04 L172.90 210.07 L173.15 209.90 L173.40 210.02 L173.65 209.93 L173.90 209.96 L174.15 209.80 L174.40 209.77 L174.65 209.83 L174.90 209.73 L175.15 209.63 L175.40 209.50 L175.65 209.46 L175.90 209.40 L176.15 209.31 L176.40 209.08 L176.65 208.94 L176.90 208.80 L177.15 208.46 L177.40 208.33 L177.65 207.93 L177.90 207.53 L178.15 206.90 L178.40 206.40 L178.65 205.79 L178.90 205.08 L179.15 204.20 L179.40 203.40 L179.65 202.47 L179.90 201.60 L180.15 200.83 L180.40 200.63 L180.50 200.60 L180.65 200.67 L180.90 201.03 L181.15 201.78 L181.40 202.69 L181.65 203.57 L181.90 204.51 L182.15 205.25 L182.40 206.13 L182.65 206.48 L182.90 207.10 L183.15 207.66 L183.40 207.94 L183.65 208.23 L183.90 208.39 L184.15 208.80 L184.40 208.74 L184.65 209.04 L184.90 209.11 L185.15 209.22 L185.40 209.30 L185.65 209.15 L185.90 209.12 L186.15 209.10 L186.40 208.91 L186.65 208.95 L186.90 208.68 L187.15 208.50 L187.40 208.14 L187.65 207.93 L187.90 207.60 L188.15 207.41 L188.40 207.30 L188.50 207.30 L188.65 207.35 L188.90 207.36 L189.15 207.89 L189.40 208.17 L189.65 208.48 L189.90 209.04 L190.15 209.14 L190.40 209.29 L190.65 209.54 L190.90 209.77 L191.15 209.87 L191.40 210.09 L191.65 210.17 L191.90 210.12 L192.15 210.24 L192.40 210.34 L192.65 210.31 L192.90 210.35 L193.15 210.48 L193.40 210.49 L193.65 210.39 L193.90 210.47 L194.15 210.51 L194.40 210.55 L194.65 210.53 L194.90 210.69 L195.15 210.54 L195.40 210.55 L195.65 210.66 L195.90 210.50 L196.15 210.60 L196.40 210.72 L196.65 210.60 L196.90 210.64 L197.15 210.79 L197.40 210.75 L197.65 210.74 L197.90 210.76 L198.15 210.70 L198.40 210.78 L198.65 210.75 L198.90 210.95 L199.15 210.81 L199.40 210.76 L199.65 210.79 L199.90 210.80 L200.15 210.71 L200.40 210.75 L200.65 210.92 L200.90 210.73 L201.15 210.79 L201.40 210.91 L201.65 210.95 L201.90 210.78 L202.15 210.96 L202.40 210.84 L202.65 210.99 L202.90 210.91 L203.15 210.86 L203.40 210.94 L203.65 210.93 L203.90 210.84 L204.15 211.05 L204.40 210.88 L204.65 210.99 L204.90 210.88 L205.15 210.79 L205.40 210.85 L205.65 210.92 L205.90 210.98 L206.15 211.06 L206.40 210.95 L206.65 210.92 L206.90 210.86 L207.15 210.95 L207.40 210.97 L207.65 210.80 L207.90 211.05 L208.15 211.04 L208.40 211.12 L208.65 210.90 L208.90 210.96 L209.15 210.96 L209.40 210.87 L209.65 210.90 L209.90 210.88 L210.15 210.98 L210.40 210.97 L210.65 211.03 L210.90 210.89 L211.15 210.81 L211.40 210.92 L211.65 210.88 L211.90 210.87 L212.15 210.87 L212.40 210.68 L212.65 210.71 L212.90 210.50 L213.15 210.48 L213.40 210.41 L213.65 210.24 L213.90 210.15 L214.15 209.95 L214.40 210.00 L214.50 210.00 L214.65 210.01 L214.90 210.02 L215.15 210.35 L215.40 210.32 L215.65 210.37 L215.90 210.47 L216.15 210.74 L216.40 210.54 L216.65 210.78 L216.90 210.91 L217.15 210.88 L217.40 210.99 L217.65 210.92 L217.90 211.02 L218.15 211.04 L218.40 211.06 L218.65 211.09 L218.90 211.09 L219.15 211.18 L219.40 211.10 L219.65 211.08 L219.90 211.11 L220.15 211.12 L220.40 211.04 L220.65 211.03 L220.90 211.07 L221.15 211.19 L221.40 211.13 L221.65 211.16 L221.90 211.39 L222.15 211.28 L222.40 211.19 L222.65 211.17 L222.90 211.31 L223.15 211.17 L223.40 211.31 L223.65 211.27 L223.90 211.33 L224.15 211.19 L224.40 211.31 L224.65 211.12 L224.90 211.24 L225.15 211.33 L225.40 211.31 L225.65 211.14 L225.90 211.32 L226.15 211.31 L226.40 211.27 L226.65 211.23 L226.90 211.27 L227.15 211.25 L227.40 211.36 L227.65 211.33 L227.90 211.38 L228.15 211.36 L228.40 211.22 L228.65 211.32 L228.90 211.47 L229.15 211.24 L229.40 211.35 L229.65 211.27 L229.90 211.27 L230.15 211.35 L230.40 211.40 L230.65 211.40 L230.90 211.38 L231.15 211.42 L231.40 211.24 L231.65 211.42 L231.90 211.39 L232.15 211.35 L232.40 211.37 L232.65 211.31 L232.90 211.46 L233.15 211.33 L233.40 211.28 L233.65 211.38 L233.90 211.35 L234.15 211.39 L234.40 211.50 L234.65 211.38 L234.90 211.40 L235.15 211.55 L235.40 211.30 L235.65 211.42 L235.90 211.48 L236.15 211.50 L236.40 211.56 L236.65 211.35 L236.90 211.44 L237.15 211.39 L237.40 211.37 L237.65 211.35 L237.90 211.30 L238.15 211.43 L238.40 211.46 L238.65 211.33 L238.90 211.46 L239.15 211.37 L239.40 211.34 L239.65 211.22 L239.90 211.49 L240.15 211.46 L240.40 211.39 L240.65 211.38 L240.90 211.32 L241.15 211.45 L241.40 211.41 L241.65 211.45 L241.90 211.42 L242.15 211.31 L242.40 211.30 L242.65 211.44 L242.90 211.29 L243.15 211.43 L243.40 211.48 L243.65 211.32 L243.90 211.46 L244.15 211.42 L244.40 211.45 L244.65 211.37 L244.90 211.42 L245.15 211.45 L245.40 211.55 L245.65 211.47 L245.90 211.45 L246.15 211.33 L246.40 211.44 L246.65 211.37 L246.90 211.41 L247.15 211.44 L247.40 211.49 L247.65 211.46 L247.90 211.43 L248.15 211.41 L248.40 211.51 L248.65 211.35 L248.90 211.42 L249.15 211.51 L249.40 211.40 L249.65 211.47 L249.90 211.48 L250.15 211.55 L250.40 211.49 L250.65 211.30 L250.90 211.41 L251.15 211.43 L251.40 211.47 L251.65 211.44 L251.90 211.54 L252.15 211.48 L252.40 211.32 L252.65 211.36 L252.90 211.26 L253.15 211.52 L253.40 211.39 L253.65 211.39 L253.90 211.28 L254.15 211.36 L254.40 211.42 L254.65 211.35 L254.90 211.35 L255.15 211.33 L255.40 211.51 L255.65 211.32 L255.90 211.25 L256.15 211.31 L256.40 211.32 L256.65 211.33 L256.90 211.32 L257.15 211.25 L257.40 211.31 L257.65 211.34 L257.90 211.21 L258.15 211.45 L258.40 211.42 L258.65 211.16 L258.90 211.26 L259.15 211.35 L259.40 211.37 L259.65 211.39 L259.90 211.13 L260.15 211.17 L260.40 211.21 L260.65 211.28 L260.90 211.15 L261.15 211.25 L261.40 211.25 L261.65 211.26 L261.90 211.10 L262.15 211.20 L262.40 211.18 L262.65 211.14 L262.90 211.25 L263.15 211.13 L263.40 211.24 L263.65 211.08 L263.90 211.24 L264.15 211.22 L264.40 211.03 L264.65 211.10 L264.90 211.09 L265.15 210.98 L265.40 211.09 L265.65 211.06 L265.90 210.94 L266.15 211.00 L266.40 211.04 L266.65 210.94 L266.90 210.88 L267.15 211.03 L267.40 210.82 L267.65 210.90 L267.90 210.93 L268.15 210.88 L268.40 210.67 L268.65 210.75 L268.90 210.73 L269.15 210.70 L269.40 210.72 L269.65 210.68 L269.90 210.62 L270.15 210.59 L270.40 210.60 L270.65 210.57 L270.90 210.30 L271.15 210.54 L271.40 210.30 L271.65 210.33 L271.90 210.10 L272.15 210.11 L272.40 209.99 L272.65 210.08 L272.90 209.98 L273.15 209.82 L273.40 209.71 L273.65 209.64 L273.90 209.43 L274.15 209.32 L274.40 209.17 L274.65 209.12 L274.90 208.89 L275.15 208.60 L275.40 208.50 L275.65 208.27 L275.90 208.06 L276.15 207.61 L276.40 207.33 L276.65 207.06 L276.90 206.43 L277.15 205.91 L277.40 205.38 L277.65 204.61 L277.90 203.85 L278.15 202.87 L278.40 201.75 L278.65 200.57 L278.90 198.95 L279.15 197.11 L279.40 195.06 L279.65 192.64 L279.90 189.92 L280.15 186.96 L280.40 183.92 L280.65 180.79 L280.90 178.51 L281.15 177.14 L281.30 176.90 L281.40 177.00 L281.65 178.10 L281.90 180.27 L282.15 183.10 L282.40 186.15 L282.65 189.33 L282.90 192.22 L283.15 194.49 L283.40 196.85 L283.65 198.58 L283.90 200.06 L284.15 201.53 L284.40 202.68 L284.65 203.62 L284.90 204.40 L285.15 205.24 L285.40 205.71 L285.65 206.30 L285.90 206.76 L286.15 207.05 L286.40 207.33 L286.65 207.65 L286.90 208.02 L287.15 208.31 L287.40 208.38 L287.65 208.64 L287.90 208.98 L288.15 208.89 L288.40 209.19 L288.65 209.31 L288.90 209.46 L289.15 209.40 L289.40 209.62 L289.65 209.58 L289.90 209.85 L290.15 209.77 L290.40 209.92 L290.65 209.89 L290.90 210.01 L291.15 209.94 L291.40 210.11 L291.65 210.17 L291.90 210.17 L292.15 210.31 L292.40 210.25 L292.65 210.31 L292.90 210.31 L293.15 210.42 L293.40 210.26 L293.65 210.30 L293.90 210.31 L294.15 210.38 L294.40 210.36 L294.65 210.40 L294.90 210.36 L295.15 210.30 L295.40 210.32 L295.65 210.35 L295.90 210.14 L296.15 210.38 L296.40 210.21 L296.65 210.19 L296.90 210.20 L297.15 210.11 L297.40 209.97 L297.65 209.98 L297.90 210.02 L298.15 209.89 L298.40 209.79 L298.65 209.52 L298.90 209.39 L299.15 209.29 L299.40 209.10 L299.65 208.75 L299.90 208.40 L300.15 208.01 L300.40 207.90 L300.65 207.31 L300.90 207.04 L301.15 206.65 L301.40 206.41 L301.65 205.80 L301.90 205.45 L302.15 205.26 L302.40 205.11 L302.50 205.10 L302.65 205.13 L302.90 205.22 L303.15 205.39 L303.40 205.91 L303.65 206.24 L303.90 206.82 L304.15 207.05 L304.40 207.57 L304.65 207.89 L304.90 208.23 L305.15 208.73 L305.40 208.91 L305.65 209.13 L305.90 209.42 L306.15 209.50 L306.40 209.70 L306.65 209.82 L306.90 210.13 L307.15 210.12 L307.40 210.23 L307.65 210.35 L307.90 210.32 L308.15 210.38 L308.40 210.33 L308.65 210.53 L308.90 210.55 L309.15 210.54 L309.40 210.69 L309.65 210.50 L309.90 210.68 L310.15 210.58 L310.40 210.62 L310.65 210.70 L310.90 210.83 L311.15 210.66 L311.40 210.69 L311.65 210.69 L311.90 210.93 L312.15 210.83 L312.40 210.84 L312.65 210.96 L312.90 210.84 L313.15 210.68 L313.40 210.80 L313.65 210.75 L313.90 210.99 L314.15 210.74 L314.40 210.87 L314.65 210.81 L314.90 210.82 L315.15 210.85 L315.40 210.84 L315.65 210.80 L315.90 210.76 L316.15 210.80 L316.40 210.77 L316.65 210.77 L316.90 210.84 L317.15 210.82 L317.40 210.85 L317.65 210.79 L317.90 210.94 L318.15 210.74 L318.40 210.71 L318.65 210.85 L318.90 210.71 L319.15 210.76 L319.40 210.81 L319.65 210.71 L319.90 210.67 L320.15 210.74 L320.40 210.67 L320.65 210.57 L320.90 210.49 L321.15 210.51 L321.40 210.37 L321.65 210.37 L321.90 210.29 L322.15 210.31 L322.40 210.26 L322.65 210.05 L322.90 209.93 L323.15 209.72 L323.40 209.51 L323.65 209.34 L323.90 209.11 L324.15 208.74 L324.40 208.30 L324.65 207.70 L324.90 206.88 L325.15 206.41 L325.40 205.65 L325.65 204.82 L325.90 204.15 L326.15 203.67 L326.30 203.60 L326.40 203.63 L326.65 204.09 L326.90 204.68 L327.15 205.45 L327.40 206.20 L327.65 206.94 L327.90 207.54 L328.15 208.23 L328.40 208.63 L328.65 208.95 L328.90 209.30 L329.15 209.52 L329.40 209.94 L329.65 209.97 L329.90 210.14 L330.15 210.16 L330.40 210.27 L330.65 210.50 L330.90 210.48 L331.15 210.58 L331.40 210.75 L331.65 210.81 L331.90 210.75 L332.15 210.77 L332.40 210.79 L332.65 210.78 L332.90 210.97 L333.15 210.76 L333.40 210.86 L333.65 210.75 L333.90 210.81 L334.15 210.95 L334.40 210.97 L334.65 210.97 L334.90 210.94 L335.15 210.92 L335.40 210.94 L335.65 210.96 L335.90 211.08 L336.15 211.10 L336.40 211.03 L336.65 210.95 L336.90 210.92 L337.15 211.00 L337.40 210.96 L337.65 210.84 L337.90 211.07 L338.15 210.96 L338.40 210.93 L338.65 210.88 L338.90 210.87 L339.15 210.99 L339.40 210.85 L339.65 210.92 L339.90 210.95 L340.15 211.03 L340.40 210.92 L340.65 210.87 L340.90 210.83 L341.15 210.91 L341.40 210.91 L341.65 210.79 L341.90 210.85 L342.15 210.79 L342.40 210.67 L342.65 210.70 L342.90 210.81 L343.15 210.84 L343.40 210.77 L343.65 210.69 L343.90 210.64 L344.15 210.71 L344.40 210.67 L344.65 210.51 L344.90 210.66 L345.15 210.54 L345.40 210.62 L345.65 210.60 L345.90 210.59 L346.15 210.60 L346.40 210.55 L346.65 210.39 L346.90 210.37 L347.15 210.49 L347.40 210.41 L347.65 210.22 L347.90 210.15 L348.15 210.31 L348.40 210.35 L348.65 210.18 L348.90 210.03 L349.15 209.98 L349.40 209.66 L349.65 209.67 L349.90 209.69 L350.15 209.54 L350.40 209.15 L350.65 209.21 L350.90 208.96 L351.15 208.76 L351.40 208.43 L351.65 208.17 L351.90 207.80 L352.15 207.61 L352.40 207.34 L352.65 206.92 L352.90 206.74 L353.15 206.44 L353.40 206.39 L353.65 206.22 L353.80 206.20 L353.90 206.21 L354.15 206.36 L354.40 206.40 L354.65 206.64 L354.90 206.91 L355.15 207.12 L355.40 207.50 L355.65 207.92 L355.90 208.13 L356.15 208.47 L356.40 208.69 L356.65 208.93 L356.90 209.06 L357.15 209.29 L357.40 209.55 L357.65 209.66 L357.90 209.70 L358.15 209.74 L358.40 209.82 L358.65 209.99 L358.90 210.08 L359.15 209.98 L359.40 210.18 L359.65 210.24 L359.90 210.28 L360.15 210.25 L360.40 210.49 L360.65 210.42 L360.90 210.28 L361.15 210.35 L361.40 210.48 L361.65 210.47 L361.90 210.46 L362.15 210.46 L362.40 210.46 L362.65 210.45 L362.90 210.42 L363.15 210.54 L363.40 210.30 L363.65 210.46 L363.90 210.60 L364.15 210.46 L364.40 210.43 L364.65 210.65 L364.90 210.59 L365.15 210.50 L365.40 210.47 L365.65 210.49 L365.90 210.47 L366.15 210.48 L366.40 210.44 L366.65 210.53 L366.90 210.44 L367.15 210.35 L367.40 210.38 L367.65 210.46 L367.90 210.38 L368.15 210.26 L368.40 210.53 L368.65 210.44 L368.90 210.35 L369.15 210.33 L369.40 210.38 L369.65 210.41 L369.90 210.23 L370.15 210.27 L370.40 210.15 L370.65 210.17 L370.90 210.01 L371.15 209.90 L371.40 209.96 L371.65 209.87 L371.90 209.83 L372.15 209.61 L372.40 209.62 L372.65 209.36 L372.90 209.26 L373.15 208.89 L373.40 208.73 L373.65 208.26 L373.90 207.84 L374.15 207.38 L374.40 206.56 L374.65 205.88 L374.90 205.26 L375.15 204.10 L375.40 203.22 L375.65 202.42 L375.90 201.82 L376.15 201.41 L376.20 201.40 L376.40 201.53 L376.65 202.00 L376.90 202.88 L377.15 203.73 L377.40 204.61 L377.65 205.49 L377.90 206.20 L378.15 206.82 L378.40 207.30 L378.65 207.67 L378.90 208.11 L379.15 208.23 L379.40 208.57 L379.65 208.78 L379.90 208.81 L380.15 208.90 L380.40 208.65 L380.65 208.68 L380.90 208.51 L381.15 208.38 L381.40 208.13 L381.65 207.94 L381.90 207.83 L382.15 207.51 L382.40 207.20 L382.65 206.81 L382.90 206.37 L383.15 205.84 L383.40 205.48 L383.65 205.17 L383.90 204.92 L384.15 204.65 L384.40 204.60 L384.65 204.69 L384.90 205.04 L385.15 205.30 L385.40 205.65 L385.65 206.08 L385.90 206.64 L386.15 206.95 L386.40 207.49 L386.65 207.88 L386.90 208.25 L387.15 208.64 L387.40 208.96 L387.65 209.41 L387.90 209.43 L388.15 209.68 L388.40 209.75 L388.65 209.84 L388.90 210.17 L389.15 210.35 L389.40 210.24 L389.65 210.39 L389.90 210.55 L390.15 210.55 L390.40 210.43 L390.65 210.73 L390.90 210.70 L391.15 210.80 L391.40 210.72 L391.65 210.89 L391.90 210.94 L392.15 210.84 L392.40 210.96 L392.65 210.91 L392.90 210.94 L393.15 210.94 L393.40 210.99 L393.65 211.00 L393.90 211.15 L394.15 211.07 L394.40 211.02 L394.65 211.22 L394.90 211.18 L395.15 211.22 L395.40 211.16 L395.65 211.23 L395.90 211.19 L396.15 211.14 L396.40 211.23 L396.65 211.24 L396.90 211.25 L397.15 211.31 L397.40 211.14 L397.65 211.29 L397.90 211.22 L398.15 211.27 L398.40 211.33 L398.65 211.31 L398.90 211.27 L399.15 211.38 L399.40 211.33 L399.65 211.41 L399.90 211.43 L400.15 211.33 L400.40 211.28 L400.65 211.37 L400.90 211.43 L401.15 211.40 L401.40 211.30 L401.65 211.27 L401.90 211.33 L402.15 211.33 L402.40 211.45 L402.65 211.42 L402.90 211.48 L403.15 211.42 L403.40 211.55 L403.65 211.44 L403.90 211.48 L404.15 211.41 L404.40 211.48 L404.65 211.53 L404.90 211.51 L405.15 211.55 L405.40 211.42 L405.65 211.50 L405.90 211.60 L406.15 211.50 L406.40 211.47 L406.65 211.47 L406.90 211.45 L407.15 211.50 L407.40 211.59 L407.65 211.53 L407.90 211.50 L408.15 211.45 L408.40 211.43 L408.65 211.68 L408.90 211.48 L409.15 211.52 L409.40 211.48 L409.65 211.53 L409.90 211.49 L410.15 211.53 L410.40 211.63 L410.65 211.47 L410.90 211.56 L411.15 211.52 L411.40 211.58 L411.65 211.48 L411.90 211.56 L412.15 211.46 L412.40 211.40 L412.65 211.43 L412.90 211.46 L413.15 211.45 L413.40 211.50 L413.65 211.60 L413.90 211.44 L414.15 211.55 L414.40 211.52 L414.65 211.46 L414.90 211.44 L415.15 211.53 L415.40 211.52 L415.65 211.45 L415.90 211.46 L416.15 211.46 L416.40 211.35 L416.65 211.44 L416.90 211.44 L417.15 211.52 L417.40 211.29 L417.65 211.29 L417.90 211.33 L418.15 211.25 L418.40 211.23 L418.65 211.22 L418.90 211.15 L419.15 211.11 L419.40 211.07 L419.65 210.85 L419.90 210.91 L420.15 210.61 L420.40 210.77 L420.65 210.57 L420.90 210.31 L421.15 210.25 L421.40 209.97 L421.65 209.80 L421.90 209.60 L422.15 209.34 L422.40 209.09 L422.65 208.92 L422.90 208.69 L423.15 208.54 L423.40 208.51 L423.50 208.50 L423.65 208.51 L423.90 208.65 L424.15 208.64 L424.40 208.96 L424.65 209.17 L424.90 209.23 L425.15 209.56 L425.40 209.84 L425.65 210.18 L425.90 210.33 L426.15 210.51 L426.40 210.60 L426.65 210.79 L426.90 210.76 L427.15 210.99 L427.40 211.09 L427.65 211.03 L427.90 211.21 L428.15 211.35 L428.40 211.43 L428.65 211.44 L428.90 211.33 L429.15 211.41 L429.40 211.41 L429.65 211.56 L429.90 211.44 L430.15 211.45 L430.40 211.42 L430.65 211.57 L430.90 211.60 L431.15 211.55 L431.40 211.55 L431.65 211.60 L431.90 211.72 L432.15 211.54 L432.40 211.64 L432.65 211.67 L432.90 211.69 L433.15 211.76 L433.40 211.74 L433.65 211.71 L433.90 211.80 L434.15 211.78 L434.40 211.73 L434.65 211.73 L434.90 211.64 L435.15 211.74 L435.40 211.68 L435.65 211.66 L435.90 211.72 L436.15 211.63 L436.40 211.69 L436.65 211.72 L436.90 211.78 L437.15 211.74 L437.40 211.80 L437.65 211.88 L437.90 211.83 L438.15 211.70 L438.40 211.66 L438.65 211.72 L438.90 211.73 L439.15 211.65 L439.40 211.67 L439.65 211.68 L439.90 211.76 L440.15 211.90 L440.40 211.92 L440.65 211.72 L440.90 211.76 L441.15 211.69 L441.40 211.67 L441.65 211.77 L441.90 211.78 L442.15 211.73 L442.40 211.81 L442.65 211.74 L442.90 211.84 L443.15 211.72 L443.40 211.82 L443.65 211.74 L443.90 211.76 L444.15 211.79 L444.40 211.65 L444.65 211.69 L444.90 211.73 L445.15 211.71 L445.40 211.75 L445.65 211.67 L445.90 211.63 L446.15 211.71 L446.40 211.74 L446.65 211.66 L446.90 211.79 L447.15 211.75 L447.40 211.76 L447.65 211.75 L447.90 211.64 L448.15 211.84 L448.40 211.64 L448.65 211.71 L448.90 211.74 L449.15 211.70 L449.40 211.69 L449.65 211.62 L449.90 211.64 L450.15 211.67 L450.40 211.76 L450.65 211.62 L450.90 211.71 L451.15 211.69 L451.40 211.66 L451.65 211.61 L451.90 211.63 L452.15 211.52 L452.40 211.65 L452.65 211.66 L452.90 211.59 L453.15 211.66 L453.40 211.65 L453.65 211.57 L453.90 211.67 L454.15 211.57 L454.40 211.78 L454.65 211.53 L454.90 211.54 L455.15 211.55 L455.40 211.61 L455.65 211.67 L455.90 211.59 L456.15 211.55 L456.40 211.71 L456.65 211.64 L456.90 211.55 L457.15 211.55 L457.40 211.45 L457.65 211.55 L457.90 211.67 L458.15 211.46 L458.40 211.44 L458.65 211.54 L458.90 211.36 L459.15 211.62 L459.40 211.41 L459.65 211.46 L459.90 211.49 L460.15 211.58 L460.40 211.52 L460.65 211.36 L460.90 211.36 L461.15 211.49 L461.40 211.32 L461.65 211.44 L461.90 211.40 L462.15 211.51 L462.40 211.53 L462.65 211.26 L462.90 211.46 L463.15 211.47 L463.40 211.36 L463.65 211.37 L463.90 211.32 L464.15 211.37 L464.40 211.42 L464.65 211.47 L464.90 211.47 L465.15 211.34 L465.40 211.30 L465.65 211.42 L465.90 211.14 L466.15 211.23 L466.40 211.36 L466.65 211.46 L466.90 211.24 L467.15 211.29 L467.40 211.20 L467.65 211.26 L467.90 211.24 L468.15 211.18 L468.40 211.25 L468.65 211.19 L468.90 211.22 L469.15 211.16 L469.40 211.07 L469.65 211.14 L469.90 211.17 L470.15 211.03 L470.40 211.15 L470.65 211.06 L470.90 210.96 L471.15 210.95 L471.40 210.88 L471.65 210.79 L471.90 210.86 L472.15 210.80 L472.40 210.63 L472.65 210.57 L472.90 210.47 L473.15 210.43 L473.40 210.37 L473.65 210.09 L473.90 210.02 L474.15 209.84 L474.40 209.71 L474.65 209.60 L474.90 209.25 L475.15 208.98 L475.40 208.94 L475.65 208.68 L475.90 208.77 L476.15 208.51 L476.40 208.51 L476.50 208.50 L476.65 208.51 L476.90 208.53 L477.15 208.66 L477.40 208.86 L477.65 208.93 L477.90 209.25 L478.15 209.32 L478.40 209.31 L478.65 209.70 L478.90 209.67 L479.15 209.96 L479.40 210.23 L479.65 210.27 L479.90 210.22 L480.15 210.33 L480.40 210.48 L480.65 210.65 L480.90 210.56 L481.15 210.74 L481.40 210.73 L481.65 210.75 L481.90 210.78 L482.15 210.94 L482.40 210.74 L482.65 210.79 L482.90 210.95 L483.15 210.97 L483.40 210.83 L483.65 210.87 L483.90 210.86 L484.15 210.99 L484.40 210.91 L484.65 211.07 L484.90 211.03 L485.15 211.00 L485.40 211.00 L485.65 211.03 L485.90 211.05 L486.15 211.00 L486.40 211.02 L486.65 211.05 L486.90 211.00" fill="none" stroke="#e8282e" stroke-width="1.3" stroke-linejoin="round"/><path d="M51.40 242.27 L51.65 242.19 L51.90 242.15 L52.15 242.21 L52.40 242.32 L52.65 242.31 L52.90 242.09 L53.15 242.22 L53.40 242.17 L53.65 242.18 L53.90 242.18 L54.15 242.19 L54.40 242.17 L54.65 242.19 L54.90 242.22 L55.15 242.12 L55.40 242.12 L55.65 242.13 L55.90 242.13 L56.15 242.25 L56.40 242.14 L56.65 242.21 L56.90 242.22 L57.15 242.27 L57.40 242.22 L57.65 242.29 L57.90 242.22 L58.15 242.24 L58.40 242.28 L58.65 242.12 L58.90 242.25 L59.15 242.33 L59.40 242.24 L59.65 242.21 L59.90 242.36 L60.15 242.24 L60.40 242.32 L60.65 242.07 L60.90 242.24 L61.15 242.20 L61.40 242.26 L61.65 242.32 L61.90 242.22 L62.15 242.22 L62.40 242.04 L62.65 242.29 L62.90 242.33 L63.15 242.25 L63.40 242.20 L63.65 242.26 L63.90 242.31 L64.15 242.28 L64.40 242.38 L64.65 242.19 L64.90 242.14 L65.15 242.27 L65.40 242.32 L65.65 242.20 L65.90 242.23 L66.15 242.18 L66.40 242.14 L66.65 242.18 L66.90 242.08 L67.15 242.24 L67.40 242.25 L67.65 242.28 L67.90 242.16 L68.15 242.17 L68.40 242.10 L68.65 242.11 L68.90 242.27 L69.15 242.41 L69.40 242.13 L69.65 242.18 L69.90 242.27 L70.15 242.15 L70.40 242.23 L70.65 242.17 L70.90 242.16 L71.15 242.24 L71.40 242.15 L71.65 242.08 L71.90 242.22 L72.15 242.16 L72.40 242.11 L72.65 242.09 L72.90 242.18 L73.15 242.08 L73.40 242.13 L73.65 242.19 L73.90 242.10 L74.15 242.18 L74.40 242.00 L74.65 242.13 L74.90 242.11 L75.15 242.20 L75.40 242.06 L75.65 242.11 L75.90 242.03 L76.15 241.95 L76.40 241.96 L76.65 241.96 L76.90 242.05 L77.15 241.93 L77.40 241.97 L77.65 242.02 L77.90 242.03 L78.15 242.00 L78.40 242.02 L78.65 241.82 L78.90 241.85 L79.15 241.89 L79.40 241.93 L79.65 241.87 L79.90 241.76 L80.15 241.78 L80.40 241.66 L80.65 241.81 L80.90 241.61 L81.15 241.73 L81.40 241.76 L81.65 241.73 L81.90 241.53 L82.15 241.63 L82.40 241.56 L82.65 241.53 L82.90 241.64 L83.15 241.51 L83.40 241.36 L83.65 241.34 L83.90 241.43 L84.15 241.36 L84.40 241.22 L84.65 241.13 L84.90 241.16 L85.15 241.12 L85.40 241.15 L85.65 240.99 L85.90 241.02 L86.15 240.99 L86.40 240.72 L86.65 240.71 L86.90 240.78 L87.15 240.55 L87.40 240.48 L87.65 240.44 L87.90 240.20 L88.15 240.09 L88.40 239.87 L88.65 239.87 L88.90 239.63 L89.15 239.46 L89.40 239.10 L89.65 239.14 L89.90 238.89 L90.15 238.53 L90.40 238.40 L90.65 237.84 L90.90 237.69 L91.15 237.23 L91.40 237.17 L91.65 236.40 L91.90 236.07 L92.15 235.64 L92.40 235.27 L92.65 234.75 L92.90 234.17 L93.15 233.55 L93.40 233.11 L93.65 232.27 L93.90 231.68 L94.15 231.09 L94.40 230.16 L94.65 229.45 L94.90 228.82 L95.15 228.00 L95.40 227.09 L95.65 226.40 L95.90 225.74 L96.15 224.81 L96.40 224.13 L96.65 223.35 L96.90 222.60 L97.15 222.12 L97.40 221.49 L97.65 221.00 L97.90 220.48 L98.15 220.17 L98.40 219.95 L98.65 219.82 L98.80 219.80 L98.90 219.81 L99.15 220.00 L99.40 220.04 L99.65 220.40 L99.90 220.81 L100.15 221.29 L100.40 221.81 L100.65 222.48 L100.90 223.27 L101.15 223.92 L101.40 224.65 L101.65 225.60 L101.90 226.17 L102.15 227.13 L102.40 227.87 L102.65 228.53 L102.90 229.37 L103.15 230.11 L103.40 230.96 L103.65 231.63 L103.90 232.22 L104.15 232.80 L104.40 233.38 L104.65 234.08 L104.90 234.55 L105.15 235.16 L105.40 235.65 L105.65 236.16 L105.90 236.64 L106.15 236.98 L106.40 237.38 L106.65 237.69 L106.90 238.10 L107.15 238.39 L107.40 238.73 L107.65 238.97 L107.90 239.06 L108.15 239.23 L108.40 239.58 L108.65 239.80 L108.90 239.84 L109.15 240.15 L109.40 240.20 L109.65 240.32 L109.90 240.47 L110.15 240.46 L110.40 240.55 L110.65 240.73 L110.90 240.76 L111.15 240.93 L111.40 241.00 L111.65 240.89 L111.90 241.08 L112.15 241.24 L112.40 241.10 L112.65 241.29 L112.90 241.27 L113.15 241.27 L113.40 241.53 L113.65 241.57 L113.90 241.51 L114.15 241.54 L114.40 241.71 L114.65 241.73 L114.90 241.68 L115.15 241.77 L115.40 241.75 L115.65 241.75 L115.90 241.84 L116.15 241.79 L116.40 241.89 L116.65 241.86 L116.90 241.86 L117.15 241.88 L117.40 241.97 L117.65 242.02 L117.90 242.01 L118.15 241.94 L118.40 242.06 L118.65 241.97 L118.90 241.97 L119.15 242.05 L119.40 242.14 L119.65 242.14 L119.90 242.15 L120.15 242.22 L120.40 242.20 L120.65 242.12 L120.90 242.22 L121.15 242.15 L121.40 242.21 L121.65 242.23 L121.90 242.20 L122.15 242.11 L122.40 242.21 L122.65 242.21 L122.90 242.23 L123.15 242.22 L123.40 242.18 L123.65 242.15 L123.90 242.32 L124.15 242.33 L124.40 242.31 L124.65 242.28 L124.90 242.43 L125.15 242.34 L125.40 242.30 L125.65 242.37 L125.90 242.31 L126.15 242.37 L126.40 242.34 L126.65 242.36 L126.90 242.33 L127.15 242.30 L127.40 242.37 L127.65 242.41 L127.90 242.27 L128.15 242.30 L128.40 242.26 L128.65 242.40 L128.90 242.32 L129.15 242.40 L129.40 242.28 L129.65 242.40 L129.90 242.30 L130.15 242.30 L130.40 242.37 L130.65 242.30 L130.90 242.29 L131.15 242.39 L131.40 242.31 L131.65 242.40 L131.90 242.49 L132.15 242.27 L132.40 242.27 L132.65 242.19 L132.90 242.20 L133.15 242.32 L133.40 242.29 L133.65 242.28 L133.90 242.28 L134.15 242.18 L134.40 242.11 L134.65 242.29 L134.90 242.22 L135.15 242.27 L135.40 242.17 L135.65 242.21 L135.90 242.10 L136.15 242.12 L136.40 242.09 L136.65 242.10 L136.90 242.15 L137.15 242.07 L137.40 241.80 L137.65 241.97 L137.90 241.95 L138.15 241.98 L138.40 241.90 L138.65 241.81 L138.90 241.77 L139.15 241.76 L139.40 241.70 L139.65 241.80 L139.90 241.70 L140.15 241.62 L140.40 241.63 L140.65 241.66 L140.90 241.44 L141.15 241.39 L141.40 241.31 L141.65 241.17 L141.90 241.14 L142.15 241.04 L142.40 241.05 L142.65 240.95 L142.90 240.88 L143.15 240.65 L143.40 240.65 L143.65 240.38 L143.90 240.29 L144.15 240.22 L144.40 240.04 L144.65 239.83 L144.90 239.67 L145.15 239.35 L145.40 238.99 L145.65 238.68 L145.90 238.30 L146.15 238.00 L146.40 237.51 L146.65 237.05 L146.90 236.52 L147.15 235.90 L147.40 235.57 L147.65 234.79 L147.90 233.85 L148.15 233.22 L148.40 232.29 L148.65 231.26 L148.90 230.41 L149.15 229.40 L149.40 228.33 L149.65 227.22 L149.90 225.90 L150.15 224.75 L150.40 223.59 L150.65 222.39 L150.90 221.23 L151.15 220.13 L151.40 219.24 L151.65 218.24 L151.90 217.57 L152.15 217.35 L152.40 217.02 L152.50 217.00 L152.65 217.04 L152.90 217.28 L153.15 217.77 L153.40 218.50 L153.65 219.32 L153.90 220.34 L154.15 221.44 L154.40 222.66 L154.65 223.86 L154.90 225.13 L155.15 226.18 L155.40 227.40 L155.65 228.61 L155.90 229.65 L156.15 230.49 L156.40 231.66 L156.65 232.55 L156.90 233.37 L157.15 234.16 L157.40 234.86 L157.65 235.66 L157.90 236.24 L158.15 236.76 L158.40 237.33 L158.65 237.77 L158.90 238.06 L159.15 238.42 L159.40 238.76 L159.65 239.18 L159.90 239.40 L160.15 239.73 L160.40 239.90 L160.65 240.05 L160.90 240.16 L161.15 240.39 L161.40 240.71 L161.65 240.64 L161.90 240.75 L162.15 240.91 L162.40 241.12 L162.65 241.11 L162.90 241.13 L163.15 241.24 L163.40 241.35 L163.65 241.43 L163.90 241.56 L164.15 241.72 L164.40 241.70 L164.65 241.71 L164.90 241.71 L165.15 241.70 L165.40 241.84 L165.65 241.93 L165.90 241.93 L166.15 241.90 L166.40 241.99 L166.65 241.96 L166.90 241.99 L167.15 242.02 L167.40 242.06 L167.65 242.07 L167.90 242.17 L168.15 242.12 L168.40 242.13 L168.65 242.23 L168.90 242.21 L169.15 242.26 L169.40 242.14 L169.65 242.29 L169.90 242.20 L170.15 242.14 L170.40 242.20 L170.65 242.13 L170.90 242.15 L171.15 242.18 L171.40 242.27 L171.65 242.11 L171.90 242.20 L172.15 242.15 L172.40 242.25 L172.65 242.13 L172.90 242.13 L173.15 242.15 L173.40 241.94 L173.65 241.94 L173.90 241.81 L174.15 241.80 L174.40 241.81 L174.65 241.70 L174.90 241.66 L175.15 241.51 L175.40 241.40 L175.65 241.33 L175.90 241.16 L176.15 241.03 L176.40 240.87 L176.65 240.83 L176.90 240.73 L177.15 240.46 L177.40 240.36 L177.65 240.08 L177.90 240.00 L178.15 239.93 L178.40 239.69 L178.65 239.66 L178.90 239.46 L179.15 239.38 L179.40 239.21 L179.65 239.05 L179.90 239.07 L180.15 239.07 L180.40 239.00 L180.50 239.00 L180.65 239.00 L180.90 239.00 L181.15 239.16 L181.40 239.14 L181.65 239.17 L181.90 239.37 L182.15 239.46 L182.40 239.54 L182.65 239.75 L182.90 239.64 L183.15 240.00 L183.40 240.21 L183.65 240.21 L183.90 240.17 L184.15 240.49 L184.40 240.65 L184.65 240.58 L184.90 240.53 L185.15 240.60 L185.40 240.67 L185.65 240.71 L185.90 240.79 L186.15 240.75 L186.40 240.56 L186.65 240.68 L186.90 240.69 L187.15 240.83 L187.40 240.67 L187.65 240.64 L187.90 240.78 L188.00 240.80 L188.15 240.84 L188.40 240.99 L188.65 241.00 L188.90 241.17 L189.15 241.28 L189.40 241.40 L189.65 241.59 L189.90 241.74 L190.15 241.74 L190.40 241.89 L190.65 242.09 L190.90 242.15 L191.15 242.21 L191.40 242.37 L191.65 242.40 L191.90 242.52 L192.15 242.40 L192.40 242.72 L192.65 242.91 L192.90 242.90 L193.15 242.95 L193.40 242.97 L193.65 242.95 L193.90 243.08 L194.15 243.09 L194.40 243.11 L194.65 243.17 L194.90 243.14 L195.15 243.22 L195.40 243.28 L195.65 243.32 L195.90 243.28 L196.15 243.35 L196.40 243.32 L196.65 243.17 L196.90 243.21 L197.15 243.35 L197.40 243.30 L197.65 243.43 L197.90 243.31 L198.15 243.39 L198.40 243.39 L198.65 243.39 L198.90 243.41 L199.15 243.46 L199.40 243.48 L199.65 243.45 L199.90 243.51 L200.15 243.54 L200.40 243.51 L200.65 243.49 L200.90 243.50 L201.15 243.53 L201.40 243.54 L201.65 243.60 L201.90 243.79 L202.15 243.69 L202.40 243.63 L202.65 243.68 L202.90 243.70 L203.15 243.75 L203.40 243.78 L203.65 243.63 L203.90 243.86 L204.15 243.66 L204.40 243.73 L204.65 243.68 L204.90 243.64 L205.15 243.64 L205.40 243.91 L205.65 243.89 L205.90 243.73 L206.15 243.73 L206.40 243.91 L206.65 243.75 L206.90 243.85 L207.15 243.97 L207.40 243.89 L207.65 243.94 L207.90 243.86 L208.15 243.73 L208.40 243.80 L208.65 243.74 L208.90 243.89 L209.15 243.78 L209.40 243.88 L209.65 243.85 L209.90 243.84 L210.15 243.93 L210.40 243.86 L210.65 243.84 L210.90 243.97 L211.15 243.91 L211.40 243.81 L211.65 244.00 L211.90 243.83 L212.15 243.94 L212.40 243.97 L212.65 243.92 L212.90 243.89 L213.15 243.92 L213.40 243.93 L213.65 243.88 L213.90 244.02 L214.15 243.92 L214.40 243.92 L214.65 244.07 L214.90 243.93 L215.15 243.88 L215.40 243.98 L215.65 243.99 L215.90 244.00 L216.15 244.14 L216.40 243.96 L216.65 244.10 L216.90 244.07 L217.15 244.11 L217.40 244.01 L217.65 244.00 L217.90 244.01 L218.15 244.05 L218.40 244.10 L218.65 244.15 L218.90 243.92 L219.15 244.12 L219.40 244.08 L219.65 244.06 L219.90 243.99 L220.15 244.09 L220.40 243.94 L220.65 244.16 L220.90 244.01 L221.15 244.07 L221.40 244.07 L221.65 244.13 L221.90 244.00 L222.15 244.15 L222.40 244.13 L222.65 244.21 L222.90 244.13 L223.15 244.10 L223.40 243.98 L223.65 244.09 L223.90 244.23 L224.15 244.09 L224.40 244.09 L224.65 244.12 L224.90 244.19 L225.15 244.02 L225.40 244.27 L225.65 244.18 L225.90 244.20 L226.15 244.15 L226.40 244.29 L226.65 244.13 L226.90 244.22 L227.15 244.17 L227.40 244.08 L227.65 244.16 L227.90 244.22 L228.15 244.16 L228.40 244.15 L228.65 244.18 L228.90 244.13 L229.15 244.11 L229.40 244.20 L229.65 244.13 L229.90 244.24 L230.15 244.25 L230.40 244.29 L230.65 244.27 L230.90 244.18 L231.15 244.23 L231.40 244.12 L231.65 244.23 L231.90 244.16 L232.15 244.29 L232.40 244.15 L232.65 244.21 L232.90 244.14 L233.15 244.24 L233.40 244.24 L233.65 244.13 L233.90 244.33 L234.15 244.23 L234.40 244.09 L234.65 244.13 L234.90 244.07 L235.15 244.05 L235.40 244.18 L235.65 244.04 L235.90 244.21 L236.15 244.07 L236.40 244.16 L236.65 244.30 L236.90 244.16 L237.15 244.18 L237.40 244.27 L237.65 244.16 L237.90 244.22 L238.15 244.12 L238.40 244.15 L238.65 244.19 L238.90 244.18 L239.15 244.12 L239.40 244.19 L239.65 244.21 L239.90 244.22 L240.15 244.17 L240.40 244.10 L240.65 244.22 L240.90 244.23 L241.15 244.10 L241.40 244.00 L241.65 244.15 L241.90 244.23 L242.15 244.22 L242.40 244.08 L242.65 244.25 L242.90 244.09 L243.15 244.22 L243.40 244.12 L243.65 244.22 L243.90 244.18 L244.15 244.13 L244.40 244.19 L244.65 244.10 L244.90 244.11 L245.15 244.12 L245.40 244.08 L245.65 244.20 L245.90 244.20 L246.15 244.13 L246.40 244.06 L246.65 244.16 L246.90 244.14 L247.15 244.17 L247.40 244.12 L247.65 244.10 L247.90 244.21 L248.15 244.07 L248.40 244.10 L248.65 243.98 L248.90 244.08 L249.15 244.07 L249.40 244.08 L249.65 244.14 L249.90 244.05 L250.15 244.12 L250.40 244.06 L250.65 244.05 L250.90 243.95 L251.15 244.10 L251.40 244.12 L251.65 244.00 L251.90 244.02 L252.15 243.94 L252.40 244.03 L252.65 243.98 L252.90 244.08 L253.15 244.04 L253.40 244.08 L253.65 243.98 L253.90 243.92 L254.15 244.02 L254.40 243.98 L254.65 244.15 L254.90 244.03 L255.15 244.11 L255.40 244.04 L255.65 243.98 L255.90 243.89 L256.15 243.97 L256.40 244.02 L256.65 243.98 L256.90 243.99 L257.15 243.98 L257.40 243.86 L257.65 243.96 L257.90 243.88 L258.15 243.92 L258.40 244.01 L258.65 243.77 L258.90 243.88 L259.15 243.91 L259.40 243.95 L259.65 243.87 L259.90 243.80 L260.15 243.90 L260.40 243.88 L260.65 243.70 L260.90 243.82 L261.15 243.68 L261.40 243.61 L261.65 243.71 L261.90 243.70 L262.15 243.60 L262.40 243.87 L262.65 243.63 L262.90 243.74 L263.15 243.75 L263.40 243.83 L263.65 243.64 L263.90 243.76 L264.15 243.55 L264.40 243.61 L264.65 243.57 L264.90 243.51 L265.15 243.58 L265.40 243.67 L265.65 243.66 L265.90 243.54 L266.15 243.39 L266.40 243.39 L266.65 243.47 L266.90 243.44 L267.15 243.41 L267.40 243.32 L267.65 243.25 L267.90 243.31 L268.15 243.24 L268.40 243.31 L268.65 243.12 L268.90 243.19 L269.15 243.18 L269.40 243.18 L269.65 243.13 L269.90 242.87 L270.15 242.80 L270.40 242.83 L270.65 242.69 L270.90 242.52 L271.15 242.71 L271.40 242.56 L271.65 242.50 L271.90 242.34 L272.15 242.30 L272.40 242.12 L272.65 241.98 L272.90 241.96 L273.15 241.59 L273.40 241.54 L273.65 241.20 L273.90 241.22 L274.15 240.88 L274.40 240.57 L274.65 240.28 L274.90 240.11 L275.15 239.97 L275.40 239.55 L275.65 239.06 L275.90 238.67 L276.15 238.62 L276.40 237.98 L276.65 237.48 L276.90 237.14 L277.15 236.70 L277.40 236.27 L277.65 235.63 L277.90 235.07 L278.15 234.62 L278.40 233.96 L278.65 233.48 L278.90 232.90 L279.15 232.40 L279.40 231.73 L279.65 231.20 L279.90 230.76 L280.15 230.30 L280.40 229.73 L280.65 229.40 L280.90 229.15 L281.15 228.86 L281.40 228.87 L281.65 228.62 L281.80 228.60 L281.90 228.61 L282.15 228.68 L282.40 228.84 L282.65 229.13 L282.90 229.33 L283.15 229.83 L283.40 230.08 L283.65 230.66 L283.90 231.10 L284.15 231.58 L284.40 232.26 L284.65 232.77 L284.90 233.24 L285.15 233.76 L285.40 234.42 L285.65 234.84 L285.90 235.46 L286.15 235.87 L286.40 236.43 L286.65 236.84 L286.90 237.33 L287.15 237.89 L287.40 238.30 L287.65 238.53 L287.90 238.90 L288.15 239.14 L288.40 239.59 L288.65 239.94 L288.90 240.07 L289.15 240.32 L289.40 240.64 L289.65 240.78 L289.90 241.03 L290.15 241.30 L290.40 241.39 L290.65 241.55 L290.90 241.77 L291.15 241.78 L291.40 241.92 L291.65 241.97 L291.90 242.00 L292.15 242.25 L292.40 242.10 L292.65 242.27 L292.90 242.24 L293.15 242.31 L293.40 242.31 L293.65 242.42 L293.90 242.50 L294.15 242.58 L294.40 242.37 L294.65 242.53 L294.90 242.49 L295.15 242.47 L295.40 242.50 L295.65 242.51 L295.90 242.47 L296.15 242.46 L296.40 242.58 L296.65 242.40 L296.90 242.37 L297.15 242.22 L297.40 242.33 L297.65 242.15 L297.90 242.12 L298.15 242.00 L298.40 241.98 L298.65 241.84 L298.90 241.74 L299.15 241.64 L299.40 241.63 L299.65 241.57 L299.90 241.53 L300.15 241.51 L300.40 241.44 L300.65 241.19 L300.90 241.12 L301.15 241.16 L301.40 241.00 L301.65 241.10 L301.90 241.08 L302.15 241.00 L302.20 241.00 L302.40 241.01 L302.65 241.07 L302.90 241.07 L303.15 241.13 L303.40 241.25 L303.65 241.25 L303.90 241.41 L304.15 241.47 L304.40 241.53 L304.65 241.62 L304.90 241.83 L305.15 241.83 L305.40 242.02 L305.65 241.97 L305.90 242.19 L306.15 242.30 L306.40 242.41 L306.65 242.54 L306.90 242.59 L307.15 242.67 L307.40 242.68 L307.65 242.70 L307.90 242.75 L308.15 242.84 L308.40 242.96 L308.65 243.06 L308.90 243.06 L309.15 243.09 L309.40 243.17 L309.65 243.13 L309.90 243.19 L310.15 243.20 L310.40 243.25 L310.65 243.24 L310.90 243.19 L311.15 243.27 L311.40 243.26 L311.65 243.45 L311.90 243.44 L312.15 243.31 L312.40 243.31 L312.65 243.38 L312.90 243.28 L313.15 243.48 L313.40 243.40 L313.65 243.37 L313.90 243.48 L314.15 243.50 L314.40 243.43 L314.65 243.49 L314.90 243.31 L315.15 243.38 L315.40 243.37 L315.65 243.32 L315.90 243.50 L316.15 243.60 L316.40 243.35 L316.65 243.40 L316.90 243.51 L317.15 243.42 L317.40 243.44 L317.65 243.38 L317.90 243.46 L318.15 243.37 L318.40 243.48 L318.65 243.46 L318.90 243.45 L319.15 243.37 L319.40 243.40 L319.65 243.44 L319.90 243.34 L320.15 243.34 L320.40 243.25 L320.65 243.38 L320.90 243.41 L321.15 243.49 L321.40 243.34 L321.65 243.32 L321.90 243.50 L322.15 243.49 L322.40 243.33 L322.65 243.36 L322.90 243.25 L323.15 243.35 L323.40 243.41 L323.65 243.34 L323.90 243.17 L324.15 243.20 L324.40 243.07 L324.65 243.05 L324.90 242.89 L325.15 242.86 L325.40 242.77 L325.65 242.55 L325.90 242.38 L326.15 242.20 L326.40 242.05 L326.65 241.78 L326.90 241.65 L327.15 241.54 L327.40 241.50 L327.50 241.50 L327.65 241.52 L327.90 241.58 L328.15 241.66 L328.40 241.92 L328.65 242.18 L328.90 242.34 L329.15 242.53 L329.40 242.73 L329.65 242.97 L329.90 243.12 L330.15 243.23 L330.40 243.29 L330.65 243.42 L330.90 243.81 L331.15 243.63 L331.40 243.75 L331.65 243.79 L331.90 243.73 L332.15 243.97 L332.40 243.92 L332.65 243.89 L332.90 244.04 L333.15 243.98 L333.40 244.07 L333.65 243.99 L333.90 244.09 L334.15 244.17 L334.40 244.12 L334.65 244.07 L334.90 244.14 L335.15 244.24 L335.40 244.07 L335.65 244.07 L335.90 244.20 L336.15 244.14 L336.40 244.12 L336.65 244.07 L336.90 244.11 L337.15 244.13 L337.40 244.08 L337.65 243.91 L337.90 244.06 L338.15 243.88 L338.40 244.10 L338.65 243.93 L338.90 243.98 L339.15 243.94 L339.40 243.86 L339.65 243.97 L339.90 243.88 L340.15 243.99 L340.40 243.87 L340.65 243.83 L340.90 243.96 L341.15 243.86 L341.40 243.74 L341.65 243.66 L341.90 243.83 L342.15 243.76 L342.40 243.74 L342.65 243.61 L342.90 243.57 L343.15 243.52 L343.40 243.64 L343.65 243.53 L343.90 243.56 L344.15 243.34 L344.40 243.54 L344.65 243.39 L344.90 243.22 L345.15 243.31 L345.40 243.42 L345.65 243.49 L345.90 243.19 L346.15 243.28 L346.40 243.37 L346.65 243.24 L346.90 243.31 L347.15 243.25 L347.40 243.31 L347.65 243.18 L347.90 243.24 L348.15 243.18 L348.40 243.22 L348.65 243.18 L348.90 243.22 L349.15 243.12 L349.40 243.19 L349.65 242.90 L349.90 242.94 L350.15 242.96 L350.40 242.84 L350.65 242.58 L350.90 242.71 L351.15 242.58 L351.40 242.70 L351.65 242.43 L351.90 242.40 L352.15 242.19 L352.40 242.22 L352.65 241.90 L352.90 241.95 L353.15 241.94 L353.40 241.81 L353.65 241.90 L353.80 241.90 L353.90 241.90 L354.15 241.82 L354.40 241.90 L354.65 242.06 L354.90 242.05 L355.15 242.22 L355.40 242.29 L355.65 242.28 L355.90 242.44 L356.15 242.55 L356.40 242.62 L356.65 242.67 L356.90 242.73 L357.15 242.82 L357.40 242.97 L357.65 243.11 L357.90 242.92 L358.15 243.00 L358.40 243.10 L358.65 243.26 L358.90 243.13 L359.15 243.39 L359.40 243.41 L359.65 243.11 L359.90 243.35 L360.15 243.36 L360.40 243.30 L360.65 243.22 L360.90 243.38 L361.15 243.34 L361.40 243.46 L361.65 243.43 L361.90 243.33 L362.15 243.54 L362.40 243.54 L362.65 243.52 L362.90 243.42 L363.15 243.48 L363.40 243.43 L363.65 243.38 L363.90 243.29 L364.15 243.44 L364.40 243.28 L364.65 243.47 L364.90 243.32 L365.15 243.43 L365.40 243.39 L365.65 243.33 L365.90 243.33 L366.15 243.36 L366.40 243.51 L366.65 243.43 L366.90 243.38 L367.15 243.45 L367.40 243.30 L367.65 243.27 L367.90 243.31 L368.15 243.44 L368.40 243.34 L368.65 243.35 L368.90 243.34 L369.15 243.29 L369.40 243.39 L369.65 243.33 L369.90 243.20 L370.15 243.17 L370.40 243.21 L370.65 243.11 L370.90 243.14 L371.15 243.15 L371.40 243.05 L371.65 243.00 L371.90 242.88 L372.15 242.78 L372.40 242.67 L372.65 242.73 L372.90 242.46 L373.15 242.37 L373.40 242.22 L373.65 242.06 L373.90 241.80 L374.15 241.49 L374.40 241.51 L374.65 241.02 L374.90 240.86 L375.15 240.46 L375.40 240.30 L375.65 239.89 L375.90 239.83 L376.15 239.53 L376.40 239.21 L376.65 239.23 L376.80 239.20 L376.90 239.20 L377.15 239.32 L377.40 239.33 L377.65 239.62 L377.90 239.74 L378.15 239.92 L378.40 240.28 L378.65 240.43 L378.90 240.60 L379.15 240.90 L379.40 240.98 L379.65 241.04 L379.90 241.19 L380.15 241.50 L380.40 241.53 L380.65 241.27 L380.90 241.43 L381.15 241.42 L381.40 241.25 L381.65 241.23 L381.90 241.00 L382.15 240.93 L382.40 240.89 L382.65 240.68 L382.90 240.54 L383.15 240.41 L383.40 240.22 L383.65 240.17 L383.90 240.16 L384.15 240.20 L384.20 240.20 L384.40 240.23 L384.65 240.18 L384.90 240.35 L385.15 240.53 L385.40 240.78 L385.65 240.83 L385.90 241.16 L386.15 241.28 L386.40 241.49 L386.65 241.78 L386.90 242.00 L387.15 242.20 L387.40 242.21 L387.65 242.53 L387.90 242.68 L388.15 242.77 L388.40 242.90 L388.65 242.99 L388.90 243.08 L389.15 243.24 L389.40 243.38 L389.65 243.32 L389.90 243.43 L390.15 243.54 L390.40 243.42 L390.65 243.69 L390.90 243.64 L391.15 243.76 L391.40 243.67 L391.65 243.66 L391.90 243.75 L392.15 243.81 L392.40 243.74 L392.65 243.90 L392.90 243.88 L393.15 243.80 L393.40 243.93 L393.65 243.90 L393.90 243.94 L394.15 243.92 L394.40 243.91 L394.65 243.89 L394.90 244.00 L395.15 244.01 L395.40 244.06 L395.65 243.98 L395.90 244.08 L396.15 244.12 L396.40 243.99 L396.65 244.10 L396.90 244.25 L397.15 244.07 L397.40 244.09 L397.65 244.12 L397.90 244.09 L398.15 244.20 L398.40 244.14 L398.65 244.15 L398.90 244.11 L399.15 244.21 L399.40 244.17 L399.65 244.16 L399.90 244.17 L400.15 244.32 L400.40 244.22 L400.65 244.25 L400.90 244.34 L401.15 244.25 L401.40 244.34 L401.65 244.21 L401.90 244.34 L402.15 244.15 L402.40 244.32 L402.65 244.29 L402.90 244.28 L403.15 244.42 L403.40 244.41 L403.65 244.43 L403.90 244.48 L404.15 244.42 L404.40 244.44 L404.65 244.40 L404.90 244.55 L405.15 244.49 L405.40 244.38 L405.65 244.38 L405.90 244.40 L406.15 244.41 L406.40 244.57 L406.65 244.50 L406.90 244.57 L407.15 244.45 L407.40 244.45 L407.65 244.61 L407.90 244.38 L408.15 244.45 L408.40 244.39 L408.65 244.51 L408.90 244.75 L409.15 244.52 L409.40 244.65 L409.65 244.70 L409.90 244.55 L410.15 244.55 L410.40 244.62 L410.65 244.65 L410.90 244.49 L411.15 244.54 L411.40 244.72 L411.65 244.55 L411.90 244.63 L412.15 244.68 L412.40 244.58 L412.65 244.59 L412.90 244.56 L413.15 244.55 L413.40 244.56 L413.65 244.48 L413.90 244.56 L414.15 244.58 L414.40 244.64 L414.65 244.56 L414.90 244.54 L415.15 244.72 L415.40 244.58 L415.65 244.55 L415.90 244.53 L416.15 244.56 L416.40 244.49 L416.65 244.50 L416.90 244.47 L417.15 244.43 L417.40 244.47 L417.65 244.39 L417.90 244.59 L418.15 244.36 L418.40 244.54 L418.65 244.41 L418.90 244.42 L419.15 244.42 L419.40 244.16 L419.65 244.34 L419.90 244.21 L420.15 244.08 L420.40 244.00 L420.65 244.01 L420.90 243.79 L421.15 243.95 L421.40 243.72 L421.65 243.70 L421.90 243.56 L422.15 243.43 L422.40 243.34 L422.65 243.21 L422.90 243.28 L423.15 243.12 L423.40 243.10 L423.65 243.06 L423.90 243.00 L424.00 243.00 L424.15 243.01 L424.40 242.99 L424.65 243.01 L424.90 243.14 L425.15 243.21 L425.40 243.32 L425.65 243.50 L425.90 243.58 L426.15 243.65 L426.40 243.66 L426.65 243.84 L426.90 243.91 L427.15 244.04 L427.40 244.06 L427.65 244.11 L427.90 244.22 L428.15 244.22 L428.40 244.26 L428.65 244.39 L428.90 244.42 L429.15 244.53 L429.40 244.51 L429.65 244.45 L429.90 244.66 L430.15 244.71 L430.40 244.54 L430.65 244.59 L430.90 244.72 L431.15 244.69 L431.40 244.58 L431.65 244.78 L431.90 244.72 L432.15 244.75 L432.40 244.82 L432.65 244.70 L432.90 244.71 L433.15 244.81 L433.40 244.84 L433.65 244.79 L433.90 244.87 L434.15 244.82 L434.40 244.88 L434.65 244.75 L434.90 244.80 L435.15 244.89 L435.40 244.77 L435.65 244.77 L435.90 244.84 L436.15 244.82 L436.40 244.78 L436.65 244.74 L436.90 244.95 L437.15 244.86 L437.40 244.96 L437.65 244.81 L437.90 244.88 L438.15 244.86 L438.40 244.89 L438.65 244.77 L438.90 244.97 L439.15 244.87 L439.40 244.91 L439.65 244.83 L439.90 245.01 L440.15 244.79 L440.40 245.03 L440.65 244.86 L440.90 244.86 L441.15 244.83 L441.40 244.98 L441.65 244.81 L441.90 244.81 L442.15 244.80 L442.40 244.89 L442.65 244.89 L442.90 244.80 L443.15 244.88 L443.40 244.95 L443.65 244.89 L443.90 244.86 L444.15 244.76 L444.40 244.93 L444.65 244.87 L444.90 244.72 L445.15 244.76 L445.40 244.62 L445.65 244.84 L445.90 244.71 L446.15 244.77 L446.40 244.88 L446.65 244.68 L446.90 244.84 L447.15 244.75 L447.40 244.69 L447.65 244.85 L447.90 244.79 L448.15 244.70 L448.40 244.78 L448.65 244.70 L448.90 244.68 L449.15 244.71 L449.40 244.80 L449.65 244.61 L449.90 244.63 L450.15 244.77 L450.40 244.61 L450.65 244.69 L450.90 244.68 L451.15 244.60 L451.40 244.63 L451.65 244.67 L451.90 244.67 L452.15 244.71 L452.40 244.68 L452.65 244.72 L452.90 244.67 L453.15 244.62 L453.40 244.69 L453.65 244.67 L453.90 244.69 L454.15 244.62 L454.40 244.61 L454.65 244.61 L454.90 244.51 L455.15 244.64 L455.40 244.56 L455.65 244.54 L455.90 244.57 L456.15 244.73 L456.40 244.53 L456.65 244.68 L456.90 244.42 L457.15 244.54 L457.40 244.69 L457.65 244.57 L457.90 244.57 L458.15 244.50 L458.40 244.40 L458.65 244.57 L458.90 244.59 L459.15 244.59 L459.40 244.65 L459.65 244.50 L459.90 244.54 L460.15 244.34 L460.40 244.46 L460.65 244.48 L460.90 244.55 L461.15 244.58 L461.40 244.56 L461.65 244.47 L461.90 244.42 L462.15 244.41 L462.40 244.40 L462.65 244.41 L462.90 244.47 L463.15 244.36 L463.40 244.25 L463.65 244.27 L463.90 244.55 L464.15 244.43 L464.40 244.29 L464.65 244.29 L464.90 244.35 L465.15 244.31 L465.40 244.30 L465.65 244.13 L465.90 244.15 L466.15 244.25 L466.40 244.27 L466.65 244.23 L466.90 244.30 L467.15 244.18 L467.40 244.18 L467.65 244.15 L467.90 244.19 L468.15 244.06 L468.40 244.22 L468.65 243.98 L468.90 244.09 L469.15 244.06 L469.40 244.09 L469.65 243.87 L469.90 243.85 L470.15 243.86 L470.40 243.90 L470.65 243.86 L470.90 243.58 L471.15 243.69 L471.40 243.68 L471.65 243.64 L471.90 243.58 L472.15 243.49 L472.40 243.45 L472.65 243.25 L472.90 243.37 L473.15 243.08 L473.40 243.17 L473.65 243.05 L473.90 243.07 L474.15 242.92 L474.40 243.00 L474.65 242.91 L474.90 242.89 L475.15 242.90 L475.40 242.80 L475.50 242.80 L475.65 242.80 L475.90 242.83 L476.15 242.87 L476.40 242.85 L476.65 242.69 L476.90 242.89 L477.15 242.95 L477.40 242.97 L477.65 243.00 L477.90 243.11 L478.15 243.10 L478.40 243.24 L478.65 243.33 L478.90 243.29 L479.15 243.39 L479.40 243.29 L479.65 243.33 L479.90 243.41 L480.15 243.40 L480.40 243.50 L480.65 243.52 L480.90 243.65 L481.15 243.52 L481.40 243.66 L481.65 243.52 L481.90 243.58 L482.15 243.67 L482.40 243.64 L482.65 243.45 L482.90 243.62 L483.15 243.66 L483.40 243.53 L483.65 243.60 L483.90 243.61 L484.15 243.66 L484.40 243.72 L484.65 243.54 L484.90 243.57 L485.15 243.74 L485.40 243.71 L485.65 243.74 L485.90 243.62 L486.15 243.69 L486.40 243.44 L486.65 243.64 L486.90 243.53" fill="none" stroke="#30288f" stroke-width="1.3" stroke-linejoin="round"/><path d="M51.40 274.70 L51.65 274.72 L51.90 274.87 L52.15 274.90 L52.40 274.76 L52.65 274.77 L52.90 274.88 L53.15 274.75 L53.40 274.82 L53.65 274.84 L53.90 274.88 L54.15 274.78 L54.40 274.61 L54.65 274.79 L54.90 274.85 L55.15 274.77 L55.40 274.77 L55.65 274.74 L55.90 274.84 L56.15 274.82 L56.40 274.83 L56.65 274.82 L56.90 274.90 L57.15 274.84 L57.40 274.81 L57.65 274.74 L57.90 274.79 L58.15 274.82 L58.40 274.93 L58.65 274.86 L58.90 274.80 L59.15 274.88 L59.40 274.87 L59.65 274.80 L59.90 274.86 L60.15 274.76 L60.40 274.84 L60.65 274.97 L60.90 274.90 L61.15 274.88 L61.40 274.89 L61.65 274.88 L61.90 274.76 L62.15 274.80 L62.40 274.79 L62.65 274.87 L62.90 274.90 L63.15 274.98 L63.40 274.83 L63.65 274.76 L63.90 274.86 L64.15 274.83 L64.40 274.85 L64.65 274.84 L64.90 274.87 L65.15 274.79 L65.40 274.85 L65.65 274.90 L65.90 274.84 L66.15 274.87 L66.40 274.79 L66.65 274.89 L66.90 274.82 L67.15 274.78 L67.40 274.81 L67.65 274.80 L67.90 274.81 L68.15 274.78 L68.40 274.93 L68.65 274.88 L68.90 274.85 L69.15 274.84 L69.40 274.80 L69.65 274.86 L69.90 274.79 L70.15 274.79 L70.40 274.74 L70.65 274.87 L70.90 274.86 L71.15 274.84 L71.40 274.84 L71.65 274.59 L71.90 274.75 L72.15 274.81 L72.40 274.76 L72.65 274.61 L72.90 274.73 L73.15 274.75 L73.40 274.65 L73.65 274.60 L73.90 274.63 L74.15 274.45 L74.40 274.66 L74.65 274.58 L74.90 274.60 L75.15 274.60 L75.40 274.59 L75.65 274.69 L75.90 274.51 L76.15 274.54 L76.40 274.39 L76.65 274.47 L76.90 274.37 L77.15 274.53 L77.40 274.46 L77.65 274.40 L77.90 274.48 L78.15 274.33 L78.40 274.37 L78.65 274.30 L78.90 274.26 L79.15 274.28 L79.40 274.23 L79.65 274.23 L79.90 274.13 L80.15 274.06 L80.40 274.22 L80.65 274.11 L80.90 274.02 L81.15 274.01 L81.40 273.88 L81.65 273.92 L81.90 273.74 L82.15 273.81 L82.40 273.74 L82.65 273.65 L82.90 273.63 L83.15 273.50 L83.40 273.55 L83.65 273.40 L83.90 273.16 L84.15 273.11 L84.40 273.20 L84.65 272.95 L84.90 272.91 L85.15 272.74 L85.40 272.76 L85.65 272.61 L85.90 272.47 L86.15 272.25 L86.40 272.13 L86.65 272.10 L86.90 271.82 L87.15 271.55 L87.40 271.65 L87.65 271.44 L87.90 271.11 L88.15 271.04 L88.40 270.88 L88.65 270.66 L88.90 270.56 L89.15 270.33 L89.40 269.98 L89.65 269.81 L89.90 269.66 L90.15 269.44 L90.40 269.12 L90.65 268.99 L90.90 268.62 L91.15 268.49 L91.40 268.07 L91.65 267.97 L91.90 267.83 L92.15 267.55 L92.40 267.13 L92.65 266.74 L92.90 266.71 L93.15 266.52 L93.40 266.21 L93.65 265.98 L93.90 265.63 L94.15 265.46 L94.40 265.19 L94.65 264.98 L94.90 264.83 L95.15 264.78 L95.40 264.53 L95.65 264.29 L95.90 264.19 L96.15 264.00 L96.40 263.92 L96.65 263.88 L96.90 263.69 L97.15 263.76 L97.40 263.71 L97.60 263.70 L97.65 263.70 L97.90 263.72 L98.15 263.68 L98.40 263.82 L98.65 263.74 L98.90 263.91 L99.15 264.00 L99.40 264.07 L99.65 264.30 L99.90 264.47 L100.15 264.61 L100.40 264.77 L100.65 264.98 L100.90 265.18 L101.15 265.52 L101.40 265.70 L101.65 265.99 L101.90 266.19 L102.15 266.49 L102.40 266.60 L102.65 266.86 L102.90 267.09 L103.15 267.30 L103.40 267.61 L103.65 267.83 L103.90 268.07 L104.15 268.29 L104.40 268.58 L104.65 268.63 L104.90 268.99 L105.15 269.17 L105.40 269.34 L105.65 269.57 L105.90 269.83 L106.15 270.05 L106.40 270.17 L106.65 270.42 L106.90 270.57 L107.15 270.79 L107.40 270.96 L107.65 271.10 L107.90 271.18 L108.15 271.28 L108.40 271.59 L108.65 271.58 L108.90 271.82 L109.15 271.89 L109.40 272.12 L109.65 272.11 L109.90 272.21 L110.15 272.19 L110.40 272.47 L110.65 272.52 L110.90 272.56 L111.15 272.66 L111.40 272.85 L111.65 272.86 L111.90 272.96 L112.15 272.96 L112.40 273.05 L112.65 273.15 L112.90 273.13 L113.15 273.28 L113.40 273.23 L113.65 273.42 L113.90 273.29 L114.15 273.34 L114.40 273.41 L114.65 273.41 L114.90 273.46 L115.15 273.50 L115.40 273.61 L115.65 273.52 L115.90 273.65 L116.15 273.66 L116.40 273.63 L116.65 273.62 L116.90 273.78 L117.15 273.50 L117.40 273.65 L117.65 273.69 L117.90 273.75 L118.15 273.73 L118.40 273.80 L118.65 273.78 L118.90 273.83 L119.15 273.72 L119.40 273.80 L119.65 273.89 L119.90 273.74 L120.15 273.80 L120.40 273.70 L120.65 273.82 L120.90 273.75 L121.15 273.85 L121.40 273.73 L121.65 273.81 L121.90 273.74 L122.15 273.81 L122.40 273.84 L122.65 273.97 L122.90 273.85 L123.15 273.85 L123.40 273.94 L123.65 273.89 L123.90 273.74 L124.15 273.85 L124.40 273.82 L124.65 273.87 L124.90 273.84 L125.15 273.68 L125.40 273.76 L125.65 273.92 L125.90 273.86 L126.15 273.73 L126.40 273.76 L126.65 273.77 L126.90 273.69 L127.15 273.55 L127.40 273.80 L127.65 273.69 L127.90 273.71 L128.15 273.70 L128.40 273.71 L128.65 273.70 L128.90 273.84 L129.15 273.70 L129.40 273.75 L129.65 273.70 L129.90 273.78 L130.15 273.69 L130.40 273.54 L130.65 273.79 L130.90 273.77 L131.15 273.69 L131.40 273.52 L131.65 273.71 L131.90 273.63 L132.15 273.53 L132.40 273.54 L132.65 273.65 L132.90 273.51 L133.15 273.53 L133.40 273.48 L133.65 273.55 L133.90 273.43 L134.15 273.52 L134.40 273.44 L134.65 273.58 L134.90 273.38 L135.15 273.39 L135.40 273.43 L135.65 273.39 L135.90 273.19 L136.15 273.27 L136.40 273.25 L136.65 273.23 L136.90 273.12 L137.15 273.19 L137.40 273.13 L137.65 272.95 L137.90 272.84 L138.15 272.85 L138.40 272.83 L138.65 272.80 L138.90 272.56 L139.15 272.52 L139.40 272.34 L139.65 272.32 L139.90 272.37 L140.15 272.34 L140.40 272.14 L140.65 271.96 L140.90 271.84 L141.15 271.87 L141.40 271.69 L141.65 271.49 L141.90 271.30 L142.15 271.13 L142.40 271.04 L142.65 271.01 L142.90 270.71 L143.15 270.54 L143.40 270.41 L143.65 270.20 L143.90 270.11 L144.15 269.80 L144.40 269.70 L144.65 269.46 L144.90 269.38 L145.15 269.15 L145.40 268.90 L145.65 268.74 L145.90 268.59 L146.15 268.52 L146.40 268.29 L146.65 268.10 L146.90 267.85 L147.15 267.67 L147.40 267.52 L147.65 267.46 L147.90 267.41 L148.15 267.28 L148.40 267.27 L148.65 267.04 L148.90 267.05 L149.15 267.00 L149.40 267.00 L149.60 267.00 L149.65 267.00 L149.90 267.08 L150.15 266.93 L150.40 267.16 L150.65 267.23 L150.90 267.24 L151.15 267.37 L151.40 267.46 L151.65 267.60 L151.90 267.84 L152.15 267.96 L152.40 268.11 L152.65 268.23 L152.90 268.37 L153.15 268.58 L153.40 268.65 L153.65 268.87 L153.90 269.12 L154.15 269.18 L154.40 269.49 L154.65 269.67 L154.90 269.85 L155.15 270.04 L155.40 270.19 L155.65 270.56 L155.90 270.45 L156.15 270.71 L156.40 270.80 L156.65 271.11 L156.90 271.31 L157.15 271.52 L157.40 271.49 L157.65 271.73 L157.90 271.76 L158.15 271.95 L158.40 272.13 L158.65 272.10 L158.90 272.31 L159.15 272.38 L159.40 272.56 L159.65 272.69 L159.90 272.62 L160.15 272.81 L160.40 272.81 L160.65 272.82 L160.90 272.98 L161.15 273.08 L161.40 273.11 L161.65 273.18 L161.90 273.41 L162.15 273.38 L162.40 273.50 L162.65 273.58 L162.90 273.54 L163.15 273.75 L163.40 273.64 L163.65 273.66 L163.90 273.62 L164.15 273.69 L164.40 273.77 L164.65 273.78 L164.90 273.82 L165.15 273.85 L165.40 273.75 L165.65 273.81 L165.90 273.86 L166.15 273.87 L166.40 273.83 L166.65 273.93 L166.90 273.89 L167.15 274.03 L167.40 273.92 L167.65 274.00 L167.90 273.85 L168.15 273.99 L168.40 274.08 L168.65 274.02 L168.90 274.06 L169.15 274.04 L169.40 274.00 L169.65 274.06 L169.90 274.06 L170.15 274.05 L170.40 273.98 L170.65 273.99 L170.90 273.83 L171.15 274.02 L171.40 273.94 L171.65 273.95 L171.90 274.05 L172.15 274.00 L172.40 274.01 L172.65 273.92 L172.90 274.00 L173.15 273.96 L173.40 273.96 L173.65 273.92 L173.90 274.03 L174.15 273.83 L174.40 273.91 L174.65 273.90 L174.90 273.93 L175.15 273.88 L175.40 273.79 L175.65 273.82 L175.90 273.90 L176.15 273.85 L176.40 273.73 L176.65 273.75 L176.90 273.71 L177.15 273.79 L177.40 273.65 L177.65 273.76 L177.90 273.77 L178.15 273.63 L178.40 273.78 L178.65 273.60 L178.90 273.59 L179.15 273.65 L179.40 273.56 L179.65 273.60 L179.90 273.51 L180.15 273.59 L180.40 273.60 L180.65 273.61 L180.90 273.67 L181.15 273.68 L181.40 273.64 L181.65 273.71 L181.90 273.74 L182.15 273.66 L182.40 273.78 L182.65 273.78 L182.90 273.75 L183.15 273.85 L183.40 273.78 L183.65 273.69 L183.90 273.95 L184.15 273.97 L184.40 274.11 L184.65 274.00 L184.90 274.12 L185.15 274.03 L185.40 274.04 L185.65 274.13 L185.90 274.20 L186.15 274.21 L186.40 274.33 L186.65 274.36 L186.90 274.22 L187.15 274.30 L187.40 274.49 L187.65 274.49 L187.90 274.34 L188.15 274.39 L188.40 274.61 L188.65 274.43 L188.90 274.61 L189.15 274.40 L189.40 274.55 L189.65 274.51 L189.90 274.63 L190.15 274.73 L190.40 274.72 L190.65 274.81 L190.90 274.86 L191.15 274.94 L191.40 274.90 L191.65 274.78 L191.90 274.85 L192.15 275.07 L192.40 275.09 L192.65 275.16 L192.90 275.11 L193.15 275.14 L193.40 275.08 L193.65 275.17 L193.90 275.28 L194.15 275.28 L194.40 275.25 L194.65 275.50 L194.90 275.44 L195.15 275.50 L195.40 275.53 L195.65 275.55 L195.90 275.52 L196.15 275.69 L196.40 275.63 L196.65 275.63 L196.90 275.83 L197.15 275.79 L197.40 275.86 L197.65 275.72 L197.90 276.01 L198.15 275.87 L198.40 275.89 L198.65 275.97 L198.90 275.97 L199.15 276.01 L199.40 276.15 L199.65 276.25 L199.90 276.17 L200.15 276.21 L200.40 276.22 L200.65 276.24 L200.90 276.15 L201.15 276.37 L201.40 276.16 L201.65 276.22 L201.90 276.42 L202.15 276.28 L202.40 276.23 L202.65 276.32 L202.90 276.49 L203.15 276.34 L203.40 276.26 L203.65 276.37 L203.90 276.38 L204.15 276.31 L204.40 276.40 L204.65 276.23 L204.90 276.44 L205.15 276.43 L205.40 276.43 L205.65 276.39 L205.90 276.54 L206.15 276.50 L206.40 276.56 L206.65 276.43 L206.90 276.54 L207.15 276.62 L207.40 276.60 L207.65 276.45 L207.90 276.52 L208.15 276.49 L208.40 276.52 L208.65 276.55 L208.90 276.68 L209.15 276.68 L209.40 276.57 L209.65 276.65 L209.90 276.56 L210.15 276.51 L210.40 276.47 L210.65 276.54 L210.90 276.74 L211.15 276.62 L211.40 276.64 L211.65 276.68 L211.90 276.46 L212.15 276.59 L212.40 276.61 L212.65 276.69 L212.90 276.63 L213.15 276.48 L213.40 276.48 L213.65 276.62 L213.90 276.62 L214.15 276.50 L214.40 276.50 L214.65 276.61 L214.90 276.51 L215.15 276.63 L215.40 276.59 L215.65 276.58 L215.90 276.74 L216.15 276.54 L216.40 276.52 L216.65 276.56 L216.90 276.43 L217.15 276.66 L217.40 276.65 L217.65 276.61 L217.90 276.60 L218.15 276.59 L218.40 276.49 L218.65 276.59 L218.90 276.60 L219.15 276.66 L219.40 276.62 L219.65 276.67 L219.90 276.65 L220.15 276.46 L220.40 276.55 L220.65 276.66 L220.90 276.59 L221.15 276.62 L221.40 276.69 L221.65 276.56 L221.90 276.65 L222.15 276.76 L222.40 276.65 L222.65 276.60 L222.90 276.66 L223.15 276.64 L223.40 276.58 L223.65 276.72 L223.90 276.68 L224.15 276.56 L224.40 276.78 L224.65 276.63 L224.90 276.71 L225.15 276.74 L225.40 276.70 L225.65 276.63 L225.90 276.56 L226.15 276.69 L226.40 276.75 L226.65 276.65 L226.90 276.72 L227.15 276.84 L227.40 276.68 L227.65 277.04 L227.90 276.79 L228.15 276.69 L228.40 276.81 L228.65 276.76 L228.90 276.88 L229.15 276.70 L229.40 276.84 L229.65 276.72 L229.90 276.83 L230.15 276.92 L230.40 276.83 L230.65 276.92 L230.90 276.81 L231.15 276.90 L231.40 276.79 L231.65 276.82 L231.90 276.85 L232.15 276.75 L232.40 276.79 L232.65 276.82 L232.90 276.99 L233.15 276.88 L233.40 276.79 L233.65 276.79 L233.90 276.88 L234.15 276.81 L234.40 276.91 L234.65 276.82 L234.90 276.83 L235.15 276.97 L235.40 276.78 L235.65 277.08 L235.90 276.87 L236.15 276.82 L236.40 276.97 L236.65 277.01 L236.90 277.04 L237.15 276.98 L237.40 276.90 L237.65 276.94 L237.90 276.97 L238.15 277.03 L238.40 277.04 L238.65 277.03 L238.90 277.04 L239.15 276.83 L239.40 276.95 L239.65 277.08 L239.90 276.97 L240.15 276.99 L240.40 276.94 L240.65 276.98 L240.90 276.93 L241.15 276.83 L241.40 276.99 L241.65 276.99 L241.90 276.89 L242.15 276.80 L242.40 276.92 L242.65 276.84 L242.90 277.00 L243.15 276.90 L243.40 276.80 L243.65 276.86 L243.90 277.03 L244.15 276.88 L244.40 276.83 L244.65 276.86 L244.90 276.79 L245.15 276.93 L245.40 276.76 L245.65 276.90 L245.90 276.92 L246.15 276.91 L246.40 276.83 L246.65 276.80 L246.90 276.83 L247.15 276.84 L247.40 276.85 L247.65 276.81 L247.90 276.82 L248.15 276.76 L248.40 276.73 L248.65 276.86 L248.90 276.80 L249.15 276.82 L249.40 276.88 L249.65 276.70 L249.90 276.70 L250.15 276.71 L250.40 276.79 L250.65 276.62 L250.90 276.67 L251.15 276.77 L251.40 276.59 L251.65 276.75 L251.90 276.80 L252.15 276.71 L252.40 276.61 L252.65 276.63 L252.90 276.59 L253.15 276.64 L253.40 276.71 L253.65 276.71 L253.90 276.47 L254.15 276.56 L254.40 276.63 L254.65 276.58 L254.90 276.42 L255.15 276.60 L255.40 276.62 L255.65 276.57 L255.90 276.55 L256.15 276.62 L256.40 276.44 L256.65 276.51 L256.90 276.55 L257.15 276.76 L257.40 276.45 L257.65 276.55 L257.90 276.61 L258.15 276.53 L258.40 276.53 L258.65 276.55 L258.90 276.32 L259.15 276.47 L259.40 276.39 L259.65 276.53 L259.90 276.44 L260.15 276.42 L260.40 276.40 L260.65 276.29 L260.90 276.44 L261.15 276.25 L261.40 276.35 L261.65 276.33 L261.90 276.41 L262.15 276.33 L262.40 276.26 L262.65 276.36 L262.90 276.43 L263.15 276.22 L263.40 276.38 L263.65 276.22 L263.90 276.24 L264.15 276.23 L264.40 276.16 L264.65 276.34 L264.90 276.26 L265.15 276.23 L265.40 276.08 L265.65 276.20 L265.90 276.07 L266.15 276.22 L266.40 275.97 L266.65 276.12 L266.90 275.94 L267.15 275.92 L267.40 276.01 L267.65 276.03 L267.90 276.01 L268.15 275.87 L268.40 275.82 L268.65 275.89 L268.90 275.69 L269.15 275.65 L269.40 275.72 L269.65 275.66 L269.90 275.58 L270.15 275.60 L270.40 275.33 L270.65 275.42 L270.90 275.47 L271.15 275.20 L271.40 275.05 L271.65 275.15 L271.90 275.00 L272.15 274.95 L272.40 274.81 L272.65 274.61 L272.90 274.51 L273.15 274.32 L273.40 274.46 L273.65 274.07 L273.90 273.97 L274.15 273.80 L274.40 273.73 L274.65 273.64 L274.90 273.33 L275.15 273.23 L275.40 273.07 L275.65 272.99 L275.90 272.63 L276.15 272.47 L276.40 272.38 L276.65 271.96 L276.90 271.86 L277.15 271.66 L277.40 271.38 L277.65 271.24 L277.90 271.07 L278.15 270.94 L278.40 270.73 L278.65 270.44 L278.90 270.23 L279.15 270.19 L279.40 269.85 L279.65 269.77 L279.90 269.59 L280.15 269.44 L280.40 269.46 L280.65 269.25 L280.90 269.24 L281.15 269.23 L281.40 269.20 L281.65 269.19 L281.90 269.13 L282.15 269.16 L282.40 269.17 L282.65 269.42 L282.90 269.47 L283.15 269.53 L283.40 269.53 L283.65 269.77 L283.90 269.85 L284.15 269.97 L284.40 270.15 L284.65 270.35 L284.90 270.40 L285.15 270.53 L285.40 270.63 L285.65 270.96 L285.90 271.04 L286.15 270.99 L286.40 271.31 L286.65 271.50 L286.90 271.47 L287.15 271.61 L287.40 271.92 L287.65 271.95 L287.90 271.98 L288.15 272.20 L288.40 272.32 L288.65 272.33 L288.90 272.43 L289.15 272.57 L289.40 272.64 L289.65 272.85 L289.90 272.88 L290.15 272.88 L290.40 272.85 L290.65 272.90 L290.90 272.82 L291.15 273.01 L291.40 273.02 L291.65 273.02 L291.90 273.14 L292.15 273.19 L292.40 272.98 L292.65 273.15 L292.90 273.16 L293.15 273.09 L293.40 273.08 L293.65 273.25 L293.90 273.17 L294.15 273.26 L294.40 273.05 L294.65 273.01 L294.90 273.06 L295.15 273.13 L295.40 273.15 L295.65 273.18 L295.90 272.99 L296.15 272.92 L296.40 273.08 L296.65 273.07 L296.90 273.03 L297.15 273.09 L297.40 272.93 L297.65 272.86 L297.90 273.13 L298.15 273.00 L298.40 272.96 L298.65 273.05 L298.90 273.00 L299.00 273.00 L299.15 273.01 L299.40 273.03 L299.65 273.17 L299.90 273.07 L300.15 273.16 L300.40 273.10 L300.65 273.16 L300.90 273.17 L301.15 273.15 L301.40 273.22 L301.65 273.30 L301.90 273.28 L302.15 273.28 L302.40 273.39 L302.65 273.51 L302.90 273.44 L303.15 273.43 L303.40 273.48 L303.65 273.60 L303.90 273.76 L304.15 273.62 L304.40 273.83 L304.65 273.79 L304.90 273.81 L305.15 273.88 L305.40 274.05 L305.65 273.99 L305.90 274.18 L306.15 274.29 L306.40 274.14 L306.65 274.17 L306.90 274.19 L307.15 274.41 L307.40 274.37 L307.65 274.44 L307.90 274.49 L308.15 274.70 L308.40 274.71 L308.65 274.76 L308.90 274.65 L309.15 274.76 L309.40 274.87 L309.65 274.92 L309.90 275.00 L310.15 275.15 L310.40 275.13 L310.65 275.19 L310.90 275.17 L311.15 275.20 L311.40 275.24 L311.65 275.31 L311.90 275.25 L312.15 275.36 L312.40 275.45 L312.65 275.45 L312.90 275.52 L313.15 275.43 L313.40 275.56 L313.65 275.64 L313.90 275.76 L314.15 275.71 L314.40 275.72 L314.65 275.73 L314.90 275.80 L315.15 275.79 L315.40 275.91 L315.65 275.84 L315.90 275.95 L316.15 275.89 L316.40 275.85 L316.65 275.87 L316.90 276.06 L317.15 275.98 L317.40 276.00 L317.65 276.24 L317.90 275.99 L318.15 276.09 L318.40 276.01 L318.65 276.08 L318.90 276.18 L319.15 276.13 L319.40 276.30 L319.65 276.11 L319.90 276.14 L320.15 276.10 L320.40 276.20 L320.65 276.15 L320.90 276.20 L321.15 276.15 L321.40 276.24 L321.65 276.17 L321.90 276.22 L322.15 276.21 L322.40 276.16 L322.65 276.21 L322.90 276.21 L323.15 276.25 L323.40 276.07 L323.65 276.31 L323.90 276.22 L324.15 276.24 L324.40 276.24 L324.65 276.10 L324.90 276.25 L325.15 276.21 L325.40 276.16 L325.65 276.24 L325.90 276.16 L326.15 276.11 L326.40 276.24 L326.65 276.22 L326.90 276.19 L327.15 276.15 L327.40 276.27 L327.65 276.11 L327.90 276.16 L328.15 276.13 L328.40 276.12 L328.65 276.16 L328.90 276.06 L329.15 276.15 L329.40 276.13 L329.65 276.08 L329.90 276.05 L330.15 276.00 L330.40 276.10 L330.65 276.22 L330.90 276.05 L331.15 276.03 L331.40 276.05 L331.65 276.11 L331.90 276.13 L332.15 276.12 L332.40 276.09 L332.65 276.00 L332.90 276.16 L333.15 276.06 L333.40 276.11 L333.65 276.09 L333.90 276.08 L334.15 276.14 L334.40 276.09 L334.65 276.23 L334.90 276.18 L335.15 276.14 L335.40 276.06 L335.65 276.13 L335.90 276.10 L336.15 276.12 L336.40 276.08 L336.65 276.00 L336.90 276.00 L337.15 276.06 L337.40 276.12 L337.65 276.06 L337.90 276.02 L338.15 276.05 L338.40 276.10 L338.65 276.02 L338.90 276.02 L339.15 276.06 L339.40 276.10 L339.65 275.96 L339.90 276.02 L340.15 276.04 L340.40 276.01 L340.65 276.08 L340.90 276.10 L341.15 275.98 L341.40 276.20 L341.65 276.06 L341.90 276.14 L342.15 276.08 L342.40 275.90 L342.65 275.93 L342.90 276.04 L343.15 276.06 L343.40 276.06 L343.65 275.88 L343.90 275.97 L344.15 276.04 L344.40 276.10 L344.65 276.04 L344.90 275.91 L345.15 275.97 L345.40 275.98 L345.65 275.98 L345.90 276.09 L346.15 276.10 L346.40 276.11 L346.65 275.95 L346.90 275.94 L347.15 275.93 L347.40 276.02 L347.65 276.04 L347.90 275.94 L348.15 276.06 L348.40 276.06 L348.65 276.04 L348.90 276.08 L349.15 275.99 L349.40 275.98 L349.65 276.16 L349.90 276.04 L350.15 276.14 L350.40 276.02 L350.65 275.91 L350.90 276.11 L351.15 275.99 L351.40 276.02 L351.65 276.14 L351.90 275.98 L352.15 276.07 L352.40 276.17 L352.65 276.23 L352.90 276.02 L353.15 276.11 L353.40 276.05 L353.65 276.18 L353.90 276.06 L354.15 276.19 L354.40 276.01 L354.65 276.16 L354.90 276.21 L355.15 276.15 L355.40 276.10 L355.65 276.07 L355.90 276.01 L356.15 276.17 L356.40 276.17 L356.65 276.12 L356.90 276.01 L357.15 276.03 L357.40 276.09 L357.65 276.21 L357.90 276.22 L358.15 276.16 L358.40 275.99 L358.65 275.94 L358.90 276.08 L359.15 276.10 L359.40 276.18 L359.65 276.00 L359.90 276.13 L360.15 276.03 L360.40 276.08 L360.65 276.00 L360.90 275.99 L361.15 275.98 L361.40 276.00 L361.65 275.94 L361.90 275.94 L362.15 276.01 L362.40 275.89 L362.65 275.94 L362.90 275.91 L363.15 275.93 L363.40 276.02 L363.65 275.87 L363.90 276.02 L364.15 275.76 L364.40 275.82 L364.65 275.92 L364.90 275.68 L365.15 275.82 L365.40 275.85 L365.65 275.70 L365.90 275.89 L366.15 275.90 L366.40 275.76 L366.65 275.74 L366.90 275.77 L367.15 275.77 L367.40 275.64 L367.65 275.63 L367.90 275.78 L368.15 275.63 L368.40 275.58 L368.65 275.51 L368.90 275.34 L369.15 275.52 L369.40 275.51 L369.65 275.48 L369.90 275.45 L370.15 275.50 L370.40 275.44 L370.65 275.41 L370.90 275.36 L371.15 275.32 L371.40 275.33 L371.65 275.25 L371.90 275.36 L372.15 275.28 L372.40 275.24 L372.65 275.36 L372.90 275.26 L373.15 275.10 L373.40 275.10 L373.65 275.14 L373.90 275.09 L374.15 275.20 L374.40 275.15 L374.65 275.14 L374.90 275.14 L375.15 275.12 L375.40 274.91 L375.65 274.93 L375.90 274.95 L376.15 275.05 L376.40 275.02 L376.65 275.13 L376.90 275.09 L377.15 275.09 L377.40 274.95 L377.65 274.99 L377.90 275.00 L378.00 275.00 L378.15 275.00 L378.40 275.14 L378.65 275.17 L378.90 274.90 L379.15 275.03 L379.40 274.96 L379.65 274.92 L379.90 275.01 L380.15 275.13 L380.40 275.15 L380.65 275.14 L380.90 275.23 L381.15 275.10 L381.40 275.16 L381.65 275.31 L381.90 275.28 L382.15 275.20 L382.40 275.19 L382.65 275.31 L382.90 275.34 L383.15 275.38 L383.40 275.37 L383.65 275.42 L383.90 275.40 L384.15 275.47 L384.40 275.45 L384.65 275.44 L384.90 275.57 L385.15 275.53 L385.40 275.56 L385.65 275.69 L385.90 275.70 L386.15 275.84 L386.40 275.86 L386.65 275.75 L386.90 275.78 L387.15 275.78 L387.40 275.76 L387.65 276.00 L387.90 275.97 L388.15 275.91 L388.40 276.10 L388.65 276.05 L388.90 276.09 L389.15 276.03 L389.40 275.91 L389.65 276.16 L389.90 276.08 L390.15 276.06 L390.40 276.23 L390.65 276.25 L390.90 276.17 L391.15 276.25 L391.40 276.31 L391.65 276.30 L391.90 276.28 L392.15 276.45 L392.40 276.34 L392.65 276.47 L392.90 276.40 L393.15 276.40 L393.40 276.53 L393.65 276.41 L393.90 276.50 L394.15 276.53 L394.40 276.59 L394.65 276.52 L394.90 276.43 L395.15 276.44 L395.40 276.45 L395.65 276.50 L395.90 276.59 L396.15 276.59 L396.40 276.59 L396.65 276.63 L396.90 276.60 L397.15 276.66 L397.40 276.68 L397.65 276.84 L397.90 276.68 L398.15 276.69 L398.40 276.69 L398.65 276.67 L398.90 276.79 L399.15 276.65 L399.40 276.90 L399.65 276.65 L399.90 276.76 L400.15 276.85 L400.40 276.82 L400.65 276.85 L400.90 276.69 L401.15 276.87 L401.40 276.86 L401.65 276.93 L401.90 276.83 L402.15 276.84 L402.40 276.73 L402.65 276.89 L402.90 276.78 L403.15 276.89 L403.40 277.00 L403.65 276.81 L403.90 276.90 L404.15 276.85 L404.40 276.85 L404.65 276.76 L404.90 276.87 L405.15 276.93 L405.40 277.00 L405.65 277.03 L405.90 276.91 L406.15 276.99 L406.40 276.93 L406.65 276.87 L406.90 276.91 L407.15 277.01 L407.40 277.00 L407.65 276.83 L407.90 277.00 L408.15 276.94 L408.40 277.01 L408.65 276.99 L408.90 276.89 L409.15 276.89 L409.40 276.98 L409.65 276.99 L409.90 277.01 L410.15 276.92 L410.40 277.10 L410.65 276.84 L410.90 277.10 L411.15 277.00 L411.40 276.98 L411.65 277.14 L411.90 277.01 L412.15 277.03 L412.40 276.99 L412.65 277.07 L412.90 277.07 L413.15 277.14 L413.40 277.12 L413.65 277.04 L413.90 277.00 L414.15 277.02 L414.40 276.99 L414.65 277.02 L414.90 277.01 L415.15 277.08 L415.40 277.07 L415.65 277.01 L415.90 277.08 L416.15 276.91 L416.40 277.06 L416.65 276.90 L416.90 277.04 L417.15 277.12 L417.40 277.09 L417.65 277.00 L417.90 277.07 L418.15 277.07 L418.40 277.04 L418.65 277.10 L418.90 277.04 L419.15 277.03 L419.40 277.02 L419.65 277.13 L419.90 277.03 L420.15 276.99 L420.40 277.16 L420.65 277.05 L420.90 277.00 L421.15 277.15 L421.40 277.07 L421.65 277.07 L421.90 277.06 L422.15 277.16 L422.40 277.17 L422.65 277.19 L422.90 277.08 L423.15 277.30 L423.40 277.09 L423.65 277.05 L423.90 277.11 L424.15 277.01 L424.40 277.08 L424.65 277.11 L424.90 277.16 L425.15 277.24 L425.40 277.18 L425.65 277.14 L425.90 277.16 L426.15 277.08 L426.40 277.27 L426.65 277.18 L426.90 277.20 L427.15 277.13 L427.40 277.11 L427.65 277.10 L427.90 277.12 L428.15 277.14 L428.40 277.24 L428.65 277.13 L428.90 277.23 L429.15 277.25 L429.40 277.22 L429.65 277.25 L429.90 277.03 L430.15 277.22 L430.40 277.17 L430.65 277.30 L430.90 277.23 L431.15 277.18 L431.40 277.21 L431.65 277.22 L431.90 277.33 L432.15 277.18 L432.40 277.23 L432.65 277.18 L432.90 277.23 L433.15 277.24 L433.40 277.23 L433.65 277.21 L433.90 277.33 L434.15 277.30 L434.40 277.26 L434.65 277.19 L434.90 277.26 L435.15 277.24 L435.40 277.30 L435.65 277.27 L435.90 277.19 L436.15 277.28 L436.40 277.37 L436.65 277.28 L436.90 277.16 L437.15 277.21 L437.40 277.31 L437.65 277.33 L437.90 277.14 L438.15 277.32 L438.40 277.37 L438.65 277.36 L438.90 277.16 L439.15 277.26 L439.40 277.35 L439.65 277.31 L439.90 277.23 L440.15 277.19 L440.40 277.26 L440.65 277.30 L440.90 277.19 L441.15 277.25 L441.40 277.36 L441.65 277.36 L441.90 277.28 L442.15 277.37 L442.40 277.26 L442.65 277.23 L442.90 277.23 L443.15 277.20 L443.40 277.24 L443.65 277.25 L443.90 277.43 L444.15 277.35 L444.40 277.44 L444.65 277.21 L444.90 277.33 L445.15 277.25 L445.40 277.18 L445.65 277.33 L445.90 277.24 L446.15 277.34 L446.40 277.47 L446.65 277.30 L446.90 277.28 L447.15 277.24 L447.40 277.19 L447.65 277.28 L447.90 277.24 L448.15 277.31 L448.40 277.27 L448.65 277.32 L448.90 277.33 L449.15 277.38 L449.40 277.22 L449.65 277.25 L449.90 277.40 L450.15 277.36 L450.40 277.24 L450.65 277.46 L450.90 277.08 L451.15 277.24 L451.40 277.24 L451.65 277.29 L451.90 277.15 L452.15 277.24 L452.40 277.25 L452.65 277.30 L452.90 277.08 L453.15 277.16 L453.40 277.15 L453.65 277.26 L453.90 277.32 L454.15 277.30 L454.40 277.12 L454.65 277.18 L454.90 277.14 L455.15 277.14 L455.40 277.09 L455.65 277.14 L455.90 277.12 L456.15 277.16 L456.40 277.10 L456.65 277.28 L456.90 276.98 L457.15 277.04 L457.40 277.04 L457.65 277.08 L457.90 277.13 L458.15 277.05 L458.40 277.26 L458.65 277.07 L458.90 277.14 L459.15 277.02 L459.40 276.97 L459.65 277.19 L459.90 276.95 L460.15 276.89 L460.40 276.94 L460.65 277.00 L460.90 277.08 L461.15 276.96 L461.40 276.96 L461.65 276.99 L461.90 277.02 L462.15 276.90 L462.40 276.98 L462.65 276.91 L462.90 276.98 L463.15 276.98 L463.40 277.01 L463.65 277.06 L463.90 276.89 L464.15 276.86 L464.40 276.93 L464.65 276.92 L464.90 276.92 L465.15 276.97 L465.40 276.92 L465.65 276.96 L465.90 276.90 L466.15 276.89 L466.40 276.83 L466.65 276.93 L466.90 276.88 L467.15 276.96 L467.40 276.91 L467.65 276.83 L467.90 276.88 L468.15 276.85 L468.40 276.84 L468.65 276.75 L468.90 276.86 L469.15 276.84 L469.40 276.75 L469.65 276.85 L469.90 276.85 L470.15 276.74 L470.40 276.73 L470.65 276.83 L470.90 276.86 L471.15 276.82 L471.40 276.67 L471.65 276.71 L471.90 276.82 L472.15 276.71 L472.40 276.85 L472.65 276.85 L472.90 276.71 L473.15 276.78 L473.40 276.80 L473.65 276.78 L473.90 276.71 L474.15 276.73 L474.40 276.73 L474.65 276.84 L474.90 276.77 L475.15 276.80 L475.40 276.73 L475.65 276.75 L475.90 276.77 L476.15 276.69 L476.40 276.65 L476.65 276.72 L476.90 276.66 L477.15 276.65 L477.40 276.63 L477.65 276.58 L477.90 276.68 L478.15 276.60 L478.40 276.61 L478.65 276.63 L478.90 276.57 L479.15 276.68 L479.40 276.70 L479.65 276.56 L479.90 276.61 L480.15 276.61 L480.40 276.61 L480.65 276.62 L480.90 276.64 L481.15 276.57 L481.40 276.66 L481.65 276.47 L481.90 276.52 L482.15 276.65 L482.40 276.56 L482.65 276.61 L482.90 276.66 L483.15 276.69 L483.40 276.49 L483.65 276.51 L483.90 276.51 L484.15 276.50 L484.40 276.57 L484.65 276.41 L484.90 276.57 L485.15 276.53 L485.40 276.63 L485.65 276.42 L485.90 276.56 L486.15 276.49 L486.40 276.46 L486.65 276.57 L486.90 276.56" fill="none" stroke="#2e7d92" stroke-width="1.3" stroke-linejoin="round"/><path d="M51.40 308.31 L51.65 308.46 L51.90 308.38 L52.15 308.37 L52.40 308.37 L52.65 308.39 L52.90 308.36 L53.15 308.41 L53.40 308.23 L53.65 308.46 L53.90 308.42 L54.15 308.36 L54.40 308.43 L54.65 308.39 L54.90 308.44 L55.15 308.48 L55.40 308.44 L55.65 308.20 L55.90 308.50 L56.15 308.41 L56.40 308.46 L56.65 308.36 L56.90 308.40 L57.15 308.40 L57.40 308.45 L57.65 308.46 L57.90 308.44 L58.15 308.43 L58.40 308.48 L58.65 308.49 L58.90 308.46 L59.15 308.40 L59.40 308.48 L59.65 308.38 L59.90 308.44 L60.15 308.52 L60.40 308.32 L60.65 308.34 L60.90 308.27 L61.15 308.55 L61.40 308.43 L61.65 308.45 L61.90 308.44 L62.15 308.41 L62.40 308.36 L62.65 308.44 L62.90 308.36 L63.15 308.46 L63.40 308.53 L63.65 308.58 L63.90 308.36 L64.15 308.39 L64.40 308.36 L64.65 308.30 L64.90 308.34 L65.15 308.41 L65.40 308.48 L65.65 308.50 L65.90 308.35 L66.15 308.46 L66.40 308.40 L66.65 308.43 L66.90 308.48 L67.15 308.48 L67.40 308.48 L67.65 308.43 L67.90 308.43 L68.15 308.43 L68.40 308.45 L68.65 308.40 L68.90 308.44 L69.15 308.41 L69.40 308.49 L69.65 308.33 L69.90 308.37 L70.15 308.40 L70.40 308.38 L70.65 308.23 L70.90 308.45 L71.15 308.48 L71.40 308.26 L71.65 308.27 L71.90 308.45 L72.15 308.25 L72.40 308.36 L72.65 308.34 L72.90 308.31 L73.15 308.35 L73.40 308.25 L73.65 308.21 L73.90 308.27 L74.15 308.29 L74.40 308.31 L74.65 308.34 L74.90 308.38 L75.15 308.31 L75.40 308.26 L75.65 308.29 L75.90 308.17 L76.15 308.19 L76.40 308.18 L76.65 308.11 L76.90 308.26 L77.15 308.13 L77.40 308.09 L77.65 308.11 L77.90 308.27 L78.15 308.24 L78.40 308.16 L78.65 308.18 L78.90 308.00 L79.15 308.05 L79.40 308.11 L79.65 308.01 L79.90 307.97 L80.15 308.00 L80.40 308.09 L80.65 308.12 L80.90 307.93 L81.15 308.07 L81.40 307.88 L81.65 307.95 L81.90 307.92 L82.15 307.88 L82.40 307.99 L82.65 307.91 L82.90 307.83 L83.15 307.87 L83.40 307.73 L83.65 307.77 L83.90 307.81 L84.15 307.70 L84.40 307.77 L84.65 307.52 L84.90 307.47 L85.15 307.49 L85.40 307.45 L85.65 307.37 L85.90 307.45 L86.15 307.32 L86.40 307.16 L86.65 307.11 L86.90 307.11 L87.15 306.92 L87.40 306.94 L87.65 306.75 L87.90 306.71 L88.15 306.63 L88.40 306.39 L88.65 306.34 L88.90 306.21 L89.15 306.10 L89.40 305.99 L89.65 305.77 L89.90 305.51 L90.15 305.39 L90.40 305.16 L90.65 304.99 L90.90 304.85 L91.15 304.61 L91.40 304.38 L91.65 303.99 L91.90 303.66 L92.15 303.42 L92.40 303.18 L92.65 302.83 L92.90 302.46 L93.15 302.20 L93.40 301.93 L93.65 301.46 L93.90 301.14 L94.15 300.86 L94.40 300.29 L94.65 299.98 L94.90 299.41 L95.15 299.03 L95.40 298.65 L95.65 298.31 L95.90 297.82 L96.15 297.35 L96.40 297.01 L96.65 296.65 L96.90 296.25 L97.15 295.69 L97.40 295.42 L97.65 294.98 L97.90 294.73 L98.15 294.44 L98.40 294.01 L98.65 293.99 L98.90 293.50 L99.15 293.47 L99.40 293.21 L99.65 293.21 L99.90 293.20 L100.00 293.20 L100.15 293.21 L100.40 293.23 L100.65 293.28 L100.90 293.42 L101.15 293.87 L101.40 293.96 L101.65 294.07 L101.90 294.43 L102.15 294.73 L102.40 295.15 L102.65 295.40 L102.90 295.70 L103.15 296.17 L103.40 296.67 L103.65 297.05 L103.90 297.43 L104.15 297.81 L104.40 298.41 L104.65 298.79 L104.90 299.11 L105.15 299.55 L105.40 300.13 L105.65 300.38 L105.90 300.89 L106.15 301.17 L106.40 301.54 L106.65 301.88 L106.90 302.31 L107.15 302.64 L107.40 302.87 L107.65 303.36 L107.90 303.51 L108.15 303.78 L108.40 304.17 L108.65 304.30 L108.90 304.58 L109.15 304.84 L109.40 305.11 L109.65 305.14 L109.90 305.38 L110.15 305.46 L110.40 305.83 L110.65 305.98 L110.90 306.15 L111.15 306.27 L111.40 306.33 L111.65 306.54 L111.90 306.54 L112.15 306.65 L112.40 306.79 L112.65 306.98 L112.90 306.90 L113.15 307.28 L113.40 307.10 L113.65 307.11 L113.90 307.29 L114.15 307.28 L114.40 307.44 L114.65 307.50 L114.90 307.42 L115.15 307.57 L115.40 307.53 L115.65 307.63 L115.90 307.61 L116.15 307.67 L116.40 307.73 L116.65 307.84 L116.90 307.74 L117.15 307.85 L117.40 307.93 L117.65 307.78 L117.90 307.94 L118.15 307.86 L118.40 307.92 L118.65 307.95 L118.90 307.92 L119.15 308.06 L119.40 308.06 L119.65 307.99 L119.90 307.99 L120.15 308.01 L120.40 308.06 L120.65 308.07 L120.90 307.95 L121.15 308.10 L121.40 308.10 L121.65 308.05 L121.90 308.03 L122.15 307.98 L122.40 308.13 L122.65 308.06 L122.90 308.09 L123.15 308.30 L123.40 308.03 L123.65 308.00 L123.90 308.19 L124.15 308.03 L124.40 308.12 L124.65 308.16 L124.90 308.10 L125.15 308.25 L125.40 308.17 L125.65 308.18 L125.90 308.13 L126.15 308.11 L126.40 308.16 L126.65 308.31 L126.90 308.18 L127.15 308.23 L127.40 308.22 L127.65 308.13 L127.90 308.24 L128.15 308.16 L128.40 308.07 L128.65 308.07 L128.90 308.24 L129.15 308.33 L129.40 308.25 L129.65 308.28 L129.90 308.12 L130.15 308.00 L130.40 308.32 L130.65 308.27 L130.90 308.09 L131.15 308.22 L131.40 308.20 L131.65 308.19 L131.90 308.12 L132.15 308.22 L132.40 308.23 L132.65 308.09 L132.90 308.20 L133.15 308.07 L133.40 308.21 L133.65 308.14 L133.90 308.21 L134.15 308.18 L134.40 308.02 L134.65 308.05 L134.90 308.12 L135.15 308.15 L135.40 308.18 L135.65 308.00 L135.90 308.06 L136.15 308.23 L136.40 308.06 L136.65 307.97 L136.90 307.89 L137.15 308.03 L137.40 308.05 L137.65 307.91 L137.90 308.00 L138.15 308.00 L138.40 308.00 L138.65 307.92 L138.90 307.83 L139.15 307.77 L139.40 307.85 L139.65 307.65 L139.90 307.82 L140.15 307.71 L140.40 307.60 L140.65 307.45 L140.90 307.46 L141.15 307.36 L141.40 307.32 L141.65 307.36 L141.90 307.41 L142.15 307.09 L142.40 307.02 L142.65 307.12 L142.90 306.88 L143.15 306.78 L143.40 306.58 L143.65 306.60 L143.90 306.35 L144.15 306.23 L144.40 306.06 L144.65 305.93 L144.90 305.65 L145.15 305.36 L145.40 305.21 L145.65 304.92 L145.90 304.54 L146.15 304.34 L146.40 303.98 L146.65 303.77 L146.90 303.42 L147.15 303.09 L147.40 302.64 L147.65 302.42 L147.90 302.00 L148.15 301.66 L148.40 301.09 L148.65 300.71 L148.90 300.26 L149.15 299.90 L149.40 299.37 L149.65 299.00 L149.90 298.44 L150.15 298.09 L150.40 297.63 L150.65 297.18 L150.90 296.75 L151.15 296.36 L151.40 296.06 L151.65 295.71 L151.90 295.39 L152.15 295.06 L152.40 294.79 L152.65 294.59 L152.90 294.48 L153.15 294.43 L153.40 294.40 L153.65 294.43 L153.90 294.43 L154.15 294.69 L154.40 294.78 L154.65 295.06 L154.90 295.31 L155.15 295.68 L155.40 295.99 L155.65 296.46 L155.90 296.80 L156.15 297.13 L156.40 297.65 L156.65 298.01 L156.90 298.52 L157.15 299.06 L157.40 299.36 L157.65 299.94 L157.90 300.34 L158.15 300.86 L158.40 301.22 L158.65 301.70 L158.90 302.04 L159.15 302.51 L159.40 302.82 L159.65 303.11 L159.90 303.52 L160.15 303.84 L160.40 304.27 L160.65 304.39 L160.90 304.62 L161.15 305.07 L161.40 305.19 L161.65 305.35 L161.90 305.62 L162.15 305.83 L162.40 306.04 L162.65 306.40 L162.90 306.39 L163.15 306.60 L163.40 306.73 L163.65 306.78 L163.90 306.82 L164.15 307.18 L164.40 307.11 L164.65 307.18 L164.90 307.36 L165.15 307.34 L165.40 307.43 L165.65 307.60 L165.90 307.55 L166.15 307.65 L166.40 307.66 L166.65 307.83 L166.90 307.66 L167.15 307.61 L167.40 307.84 L167.65 307.84 L167.90 308.08 L168.15 307.92 L168.40 307.94 L168.65 308.00 L168.90 307.98 L169.15 308.01 L169.40 307.92 L169.65 307.97 L169.90 308.09 L170.15 307.91 L170.40 307.97 L170.65 308.02 L170.90 308.04 L171.15 307.98 L171.40 308.01 L171.65 308.01 L171.90 307.95 L172.15 307.87 L172.40 307.93 L172.65 307.83 L172.90 307.81 L173.15 307.90 L173.40 307.82 L173.65 307.67 L173.90 307.59 L174.15 307.61 L174.40 307.64 L174.65 307.61 L174.90 307.52 L175.15 307.60 L175.40 307.40 L175.65 307.27 L175.90 307.27 L176.15 307.27 L176.40 307.17 L176.65 307.09 L176.90 307.08 L177.15 306.99 L177.40 306.95 L177.65 306.73 L177.90 306.70 L178.15 306.61 L178.40 306.52 L178.65 306.56 L178.90 306.38 L179.15 306.30 L179.40 306.10 L179.65 306.09 L179.90 306.07 L180.15 305.97 L180.40 305.83 L180.65 305.87 L180.90 305.77 L181.15 305.80 L181.40 305.73 L181.65 305.72 L181.90 305.57 L182.15 305.57 L182.40 305.60 L182.60 305.60 L182.65 305.60 L182.90 305.66 L183.15 305.62 L183.40 305.82 L183.65 305.74 L183.90 305.77 L184.15 305.85 L184.40 305.86 L184.65 306.01 L184.90 306.05 L185.15 306.10 L185.40 306.10 L185.65 306.21 L185.90 306.35 L186.15 306.32 L186.40 306.50 L186.65 306.66 L186.90 306.75 L187.15 307.00 L187.40 306.80 L187.65 307.02 L187.90 307.10 L188.15 307.24 L188.40 307.29 L188.65 307.34 L188.90 307.49 L189.15 307.54 L189.40 307.79 L189.65 307.69 L189.90 307.83 L190.15 307.93 L190.40 307.96 L190.65 307.99 L190.90 308.06 L191.15 308.11 L191.40 308.12 L191.65 308.24 L191.90 308.40 L192.15 308.43 L192.40 308.32 L192.65 308.48 L192.90 308.46 L193.15 308.49 L193.40 308.52 L193.65 308.63 L193.90 308.54 L194.15 308.58 L194.40 308.75 L194.65 308.57 L194.90 308.68 L195.15 308.77 L195.40 308.76 L195.65 308.76 L195.90 308.93 L196.15 308.91 L196.40 308.86 L196.65 308.93 L196.90 308.87 L197.15 308.86 L197.40 308.98 L197.65 309.01 L197.90 308.84 L198.15 309.04 L198.40 309.09 L198.65 309.03 L198.90 308.89 L199.15 309.03 L199.40 308.94 L199.65 309.08 L199.90 309.00 L200.15 309.01 L200.40 308.97 L200.65 309.04 L200.90 309.06 L201.15 308.97 L201.40 309.03 L201.65 309.02 L201.90 309.17 L202.15 309.12 L202.40 309.09 L202.65 309.20 L202.90 309.15 L203.15 309.14 L203.40 309.13 L203.65 309.25 L203.90 309.19 L204.15 309.07 L204.40 309.16 L204.65 309.19 L204.90 309.06 L205.15 309.30 L205.40 309.33 L205.65 309.19 L205.90 309.33 L206.15 309.30 L206.40 309.29 L206.65 309.23 L206.90 309.42 L207.15 309.33 L207.40 309.26 L207.65 309.38 L207.90 309.34 L208.15 309.28 L208.40 309.40 L208.65 309.38 L208.90 309.23 L209.15 309.37 L209.40 309.41 L209.65 309.45 L209.90 309.48 L210.15 309.42 L210.40 309.44 L210.65 309.35 L210.90 309.42 L211.15 309.39 L211.40 309.51 L211.65 309.54 L211.90 309.42 L212.15 309.32 L212.40 309.50 L212.65 309.56 L212.90 309.48 L213.15 309.40 L213.40 309.55 L213.65 309.46 L213.90 309.53 L214.15 309.52 L214.40 309.59 L214.65 309.45 L214.90 309.64 L215.15 309.58 L215.40 309.72 L215.65 309.50 L215.90 309.43 L216.15 309.58 L216.40 309.50 L216.65 309.60 L216.90 309.47 L217.15 309.67 L217.40 309.63 L217.65 309.68 L217.90 309.63 L218.15 309.55 L218.40 309.72 L218.65 309.74 L218.90 309.77 L219.15 309.64 L219.40 309.69 L219.65 309.73 L219.90 309.65 L220.15 309.70 L220.40 309.71 L220.65 309.78 L220.90 309.59 L221.15 309.83 L221.40 309.74 L221.65 309.75 L221.90 309.71 L222.15 309.83 L222.40 309.81 L222.65 309.78 L222.90 309.85 L223.15 309.74 L223.40 309.85 L223.65 309.74 L223.90 309.78 L224.15 309.93 L224.40 309.77 L224.65 309.76 L224.90 309.80 L225.15 309.83 L225.40 309.86 L225.65 309.83 L225.90 309.83 L226.15 309.84 L226.40 310.01 L226.65 309.73 L226.90 309.86 L227.15 309.90 L227.40 309.78 L227.65 309.89 L227.90 309.89 L228.15 309.67 L228.40 309.99 L228.65 309.93 L228.90 309.90 L229.15 309.81 L229.40 309.86 L229.65 309.82 L229.90 309.82 L230.15 309.95 L230.40 309.73 L230.65 309.72 L230.90 309.84 L231.15 309.94 L231.40 309.81 L231.65 309.94 L231.90 309.84 L232.15 309.88 L232.40 309.89 L232.65 309.92 L232.90 309.94 L233.15 309.89 L233.40 309.84 L233.65 309.81 L233.90 309.99 L234.15 309.94 L234.40 309.99 L234.65 309.87 L234.90 309.96 L235.15 309.98 L235.40 310.01 L235.65 309.92 L235.90 310.02 L236.15 309.84 L236.40 309.91 L236.65 309.86 L236.90 309.84 L237.15 309.94 L237.40 310.00 L237.65 309.89 L237.90 309.91 L238.15 309.90 L238.40 309.91 L238.65 310.01 L238.90 310.02 L239.15 309.85 L239.40 309.99 L239.65 309.98 L239.90 309.92 L240.15 309.84 L240.40 309.94 L240.65 309.87 L240.90 309.99 L241.15 309.99 L241.40 310.06 L241.65 309.93 L241.90 309.98 L242.15 309.95 L242.40 310.00 L242.65 309.93 L242.90 309.94 L243.15 309.90 L243.40 309.98 L243.65 309.99 L243.90 310.10 L244.15 310.01 L244.40 309.97 L244.65 310.06 L244.90 310.05 L245.15 309.96 L245.40 310.00 L245.65 309.97 L245.90 309.97 L246.15 310.00 L246.40 309.98 L246.65 309.95 L246.90 310.02 L247.15 309.96 L247.40 309.87 L247.65 309.95 L247.90 310.07 L248.15 310.02 L248.40 310.04 L248.65 310.01 L248.90 309.94 L249.15 309.90 L249.40 309.91 L249.65 310.00 L249.90 309.98 L250.15 310.01 L250.40 309.95 L250.65 310.15 L250.90 309.93 L251.15 310.08 L251.40 309.96 L251.65 310.07 L251.90 310.11 L252.15 310.10 L252.40 310.08 L252.65 310.01 L252.90 309.86 L253.15 309.84 L253.40 309.97 L253.65 310.02 L253.90 309.85 L254.15 310.03 L254.40 309.94 L254.65 309.86 L254.90 309.95 L255.15 310.09 L255.40 309.88 L255.65 309.94 L255.90 309.94 L256.15 309.88 L256.40 309.99 L256.65 310.00 L256.90 309.94 L257.15 310.00 L257.40 309.90 L257.65 309.94 L257.90 309.80 L258.15 309.95 L258.40 309.85 L258.65 309.73 L258.90 309.84 L259.15 309.74 L259.40 309.76 L259.65 309.88 L259.90 309.87 L260.15 309.74 L260.40 309.64 L260.65 309.84 L260.90 309.70 L261.15 309.84 L261.40 309.83 L261.65 309.80 L261.90 309.91 L262.15 309.81 L262.40 309.74 L262.65 309.70 L262.90 309.73 L263.15 309.74 L263.40 309.62 L263.65 309.68 L263.90 309.69 L264.15 309.57 L264.40 309.57 L264.65 309.68 L264.90 309.54 L265.15 309.72 L265.40 309.66 L265.65 309.64 L265.90 309.55 L266.15 309.51 L266.40 309.59 L266.65 309.59 L266.90 309.62 L267.15 309.34 L267.40 309.55 L267.65 309.56 L267.90 309.44 L268.15 309.49 L268.40 309.41 L268.65 309.39 L268.90 309.30 L269.15 309.44 L269.40 309.37 L269.65 309.31 L269.90 309.28 L270.15 309.30 L270.40 309.35 L270.65 309.32 L270.90 309.19 L271.15 309.09 L271.40 309.15 L271.65 308.94 L271.90 309.12 L272.15 309.01 L272.40 308.86 L272.65 308.82 L272.90 308.72 L273.15 308.73 L273.40 308.55 L273.65 308.53 L273.90 308.39 L274.15 308.20 L274.40 308.22 L274.65 308.07 L274.90 307.90 L275.15 307.73 L275.40 307.63 L275.65 307.47 L275.90 307.27 L276.15 307.09 L276.40 306.91 L276.65 306.65 L276.90 306.54 L277.15 306.26 L277.40 306.02 L277.65 305.64 L277.90 305.39 L278.15 305.13 L278.40 304.80 L278.65 304.43 L278.90 304.10 L279.15 303.84 L279.40 303.50 L279.65 303.19 L279.90 302.69 L280.15 302.39 L280.40 302.02 L280.65 301.61 L280.90 301.23 L281.15 300.86 L281.40 300.57 L281.65 300.24 L281.90 299.81 L282.15 299.56 L282.40 299.27 L282.65 299.11 L282.90 298.88 L283.15 298.79 L283.40 298.76 L283.65 298.61 L283.80 298.60 L283.90 298.60 L284.15 298.63 L284.40 298.72 L284.65 298.85 L284.90 299.07 L285.15 299.37 L285.40 299.49 L285.65 299.73 L285.90 300.14 L286.15 300.42 L286.40 300.66 L286.65 301.12 L286.90 301.39 L287.15 301.80 L287.40 302.19 L287.65 302.47 L287.90 302.85 L288.15 303.25 L288.40 303.47 L288.65 303.88 L288.90 304.11 L289.15 304.56 L289.40 304.84 L289.65 305.07 L289.90 305.36 L290.15 305.55 L290.40 305.91 L290.65 306.09 L290.90 306.37 L291.15 306.63 L291.40 306.72 L291.65 306.85 L291.90 307.16 L292.15 307.18 L292.40 307.42 L292.65 307.49 L292.90 307.65 L293.15 307.62 L293.40 307.61 L293.65 307.76 L293.90 307.86 L294.15 308.02 L294.40 307.87 L294.65 307.99 L294.90 307.87 L295.15 307.95 L295.40 308.04 L295.65 308.03 L295.90 307.97 L296.15 307.92 L296.40 307.92 L296.65 307.91 L296.90 307.79 L297.15 307.75 L297.40 307.71 L297.65 307.67 L297.90 307.46 L298.15 307.50 L298.40 307.43 L298.65 307.38 L298.90 307.27 L299.15 307.32 L299.40 307.23 L299.65 307.12 L299.90 307.26 L300.15 307.05 L300.40 307.04 L300.65 306.92 L300.90 306.90 L301.15 306.90 L301.40 306.76 L301.65 306.70 L301.90 306.80 L302.00 306.80 L302.15 306.81 L302.40 306.81 L302.65 306.81 L302.90 306.91 L303.15 307.06 L303.40 307.06 L303.65 306.92 L303.90 307.10 L304.15 307.23 L304.40 307.29 L304.65 307.25 L304.90 307.43 L305.15 307.64 L305.40 307.65 L305.65 307.70 L305.90 307.74 L306.15 307.99 L306.40 308.18 L306.65 308.04 L306.90 308.25 L307.15 308.26 L307.40 308.26 L307.65 308.31 L307.90 308.51 L308.15 308.55 L308.40 308.57 L308.65 308.70 L308.90 308.77 L309.15 308.97 L309.40 308.84 L309.65 308.84 L309.90 308.87 L310.15 309.02 L310.40 309.08 L310.65 309.04 L310.90 309.16 L311.15 309.13 L311.40 309.13 L311.65 309.14 L311.90 309.20 L312.15 309.24 L312.40 309.22 L312.65 309.19 L312.90 309.20 L313.15 309.37 L313.40 309.27 L313.65 309.45 L313.90 309.23 L314.15 309.34 L314.40 309.33 L314.65 309.27 L314.90 309.24 L315.15 309.31 L315.40 309.46 L315.65 309.32 L315.90 309.41 L316.15 309.42 L316.40 309.43 L316.65 309.23 L316.90 309.35 L317.15 309.25 L317.40 309.43 L317.65 309.45 L317.90 309.47 L318.15 309.45 L318.40 309.48 L318.65 309.47 L318.90 309.43 L319.15 309.46 L319.40 309.33 L319.65 309.40 L319.90 309.31 L320.15 309.33 L320.40 309.38 L320.65 309.46 L320.90 309.34 L321.15 309.38 L321.40 309.33 L321.65 309.40 L321.90 309.34 L322.15 309.24 L322.40 309.32 L322.65 309.25 L322.90 309.19 L323.15 309.29 L323.40 309.14 L323.65 309.07 L323.90 308.93 L324.15 308.94 L324.40 309.07 L324.65 308.74 L324.90 309.00 L325.15 308.81 L325.40 308.77 L325.65 308.88 L325.90 308.65 L326.15 308.70 L326.40 308.64 L326.65 308.66 L326.90 308.73 L327.15 308.76 L327.40 308.49 L327.65 308.53 L327.90 308.60 L328.00 308.60 L328.15 308.60 L328.40 308.75 L328.65 308.63 L328.90 308.59 L329.15 308.74 L329.40 308.74 L329.65 308.85 L329.90 308.81 L330.15 308.99 L330.40 308.75 L330.65 308.78 L330.90 308.91 L331.15 308.91 L331.40 309.04 L331.65 309.02 L331.90 309.20 L332.15 309.16 L332.40 309.22 L332.65 309.18 L332.90 309.25 L333.15 309.26 L333.40 309.25 L333.65 309.36 L333.90 309.23 L334.15 309.35 L334.40 309.36 L334.65 309.51 L334.90 309.42 L335.15 309.34 L335.40 309.47 L335.65 309.52 L335.90 309.54 L336.15 309.58 L336.40 309.58 L336.65 309.57 L336.90 309.64 L337.15 309.53 L337.40 309.60 L337.65 309.58 L337.90 309.60 L338.15 309.61 L338.40 309.56 L338.65 309.57 L338.90 309.59 L339.15 309.43 L339.40 309.62 L339.65 309.66 L339.90 309.59 L340.15 309.56 L340.40 309.56 L340.65 309.64 L340.90 309.51 L341.15 309.61 L341.40 309.42 L341.65 309.46 L341.90 309.60 L342.15 309.44 L342.40 309.36 L342.65 309.47 L342.90 309.40 L343.15 309.42 L343.40 309.45 L343.65 309.36 L343.90 309.41 L344.15 309.34 L344.40 309.35 L344.65 309.31 L344.90 309.22 L345.15 309.24 L345.40 309.24 L345.65 309.33 L345.90 309.20 L346.15 309.17 L346.40 309.24 L346.65 309.26 L346.90 309.20 L347.15 309.16 L347.40 309.06 L347.65 309.18 L347.90 309.21 L348.15 309.10 L348.40 309.12 L348.65 309.03 L348.90 309.02 L349.15 309.06 L349.40 309.03 L349.65 309.06 L349.90 309.02 L350.15 308.96 L350.40 308.93 L350.65 308.99 L350.90 308.85 L351.15 308.95 L351.40 308.87 L351.65 308.78 L351.90 308.79 L352.15 308.81 L352.40 308.99 L352.65 308.79 L352.90 308.69 L353.15 308.83 L353.40 308.67 L353.65 308.63 L353.90 308.73 L354.15 308.75 L354.40 308.80 L354.65 308.67 L354.90 308.57 L355.15 308.61 L355.40 308.68 L355.65 308.68 L355.90 308.49 L356.15 308.64 L356.40 308.49 L356.65 308.40 L356.90 308.51 L357.15 308.45 L357.40 308.32 L357.65 308.33 L357.90 308.38 L358.15 308.39 L358.40 308.26 L358.65 308.40 L358.90 308.24 L359.15 308.21 L359.40 308.30 L359.65 308.32 L359.90 308.19 L360.15 308.19 L360.40 308.23 L360.65 308.28 L360.90 308.18 L361.15 308.19 L361.40 308.17 L361.65 308.09 L361.90 308.26 L362.15 308.18 L362.40 308.28 L362.65 308.17 L362.90 308.30 L363.15 308.22 L363.40 308.27 L363.65 308.11 L363.90 308.15 L364.15 308.15 L364.40 308.32 L364.65 308.21 L364.90 308.14 L365.15 308.01 L365.40 308.09 L365.65 308.25 L365.90 308.11 L366.15 308.17 L366.40 308.00 L366.65 308.13 L366.90 308.17 L367.15 308.11 L367.40 307.99 L367.65 307.97 L367.90 308.07 L368.15 307.93 L368.40 307.89 L368.65 307.98 L368.90 307.86 L369.15 307.84 L369.40 307.88 L369.65 307.86 L369.90 307.74 L370.15 307.81 L370.40 307.86 L370.65 307.79 L370.90 307.78 L371.15 307.74 L371.40 307.64 L371.65 307.62 L371.90 307.49 L372.15 307.45 L372.40 307.42 L372.65 307.35 L372.90 307.53 L373.15 307.44 L373.40 307.19 L373.65 307.29 L373.90 307.21 L374.15 307.18 L374.40 307.13 L374.65 307.12 L374.90 306.92 L375.15 306.88 L375.40 306.87 L375.65 306.92 L375.90 306.80 L376.15 306.75 L376.40 306.68 L376.65 306.71 L376.90 306.63 L377.15 306.66 L377.40 306.65 L377.65 306.52 L377.90 306.37 L378.15 306.31 L378.40 306.35 L378.65 306.34 L378.90 306.30 L379.15 306.29 L379.40 306.25 L379.65 306.32 L379.90 306.21 L380.15 306.29 L380.40 306.21 L380.65 306.17 L380.90 306.20 L381.00 306.20 L381.15 306.21 L381.40 306.07 L381.65 306.24 L381.90 306.32 L382.15 306.36 L382.40 306.26 L382.65 306.27 L382.90 306.47 L383.15 306.33 L383.40 306.47 L383.65 306.50 L383.90 306.59 L384.15 306.69 L384.40 306.78 L384.65 306.61 L384.90 306.78 L385.15 306.72 L385.40 306.88 L385.65 306.88 L385.90 307.03 L386.15 307.08 L386.40 307.20 L386.65 307.29 L386.90 307.32 L387.15 307.43 L387.40 307.52 L387.65 307.50 L387.90 307.57 L388.15 307.59 L388.40 307.64 L388.65 307.81 L388.90 307.93 L389.15 307.90 L389.40 307.84 L389.65 307.95 L389.90 308.08 L390.15 308.12 L390.40 308.11 L390.65 308.23 L390.90 308.28 L391.15 308.22 L391.40 308.30 L391.65 308.46 L391.90 308.40 L392.15 308.50 L392.40 308.64 L392.65 308.65 L392.90 308.68 L393.15 308.59 L393.40 308.66 L393.65 308.75 L393.90 308.78 L394.15 308.87 L394.40 308.90 L394.65 308.96 L394.90 309.02 L395.15 308.94 L395.40 308.91 L395.65 309.07 L395.90 309.04 L396.15 309.07 L396.40 309.05 L396.65 309.10 L396.90 309.29 L397.15 309.02 L397.40 309.22 L397.65 309.22 L397.90 309.26 L398.15 309.20 L398.40 309.25 L398.65 309.24 L398.90 309.27 L399.15 309.28 L399.40 309.44 L399.65 309.41 L399.90 309.39 L400.15 309.40 L400.40 309.34 L400.65 309.29 L400.90 309.44 L401.15 309.36 L401.40 309.40 L401.65 309.39 L401.90 309.43 L402.15 309.44 L402.40 309.58 L402.65 309.60 L402.90 309.51 L403.15 309.56 L403.40 309.53 L403.65 309.57 L403.90 309.53 L404.15 309.60 L404.40 309.47 L404.65 309.42 L404.90 309.73 L405.15 309.62 L405.40 309.62 L405.65 309.67 L405.90 309.65 L406.15 309.71 L406.40 309.58 L406.65 309.63 L406.90 309.77 L407.15 309.71 L407.40 309.65 L407.65 309.62 L407.90 309.85 L408.15 309.80 L408.40 309.78 L408.65 309.65 L408.90 309.71 L409.15 309.69 L409.40 309.64 L409.65 309.74 L409.90 309.76 L410.15 309.94 L410.40 309.70 L410.65 309.87 L410.90 309.82 L411.15 309.85 L411.40 309.81 L411.65 309.87 L411.90 309.79 L412.15 309.88 L412.40 309.85 L412.65 309.73 L412.90 309.79 L413.15 309.93 L413.40 309.92 L413.65 309.74 L413.90 309.83 L414.15 309.92 L414.40 309.84 L414.65 309.76 L414.90 309.85 L415.15 309.82 L415.40 309.69 L415.65 309.84 L415.90 309.82 L416.15 309.85 L416.40 309.93 L416.65 309.93 L416.90 309.92 L417.15 309.92 L417.40 309.74 L417.65 309.73 L417.90 309.83 L418.15 309.80 L418.40 309.83 L418.65 309.77 L418.90 309.84 L419.15 309.92 L419.40 309.79 L419.65 309.79 L419.90 309.77 L420.15 309.65 L420.40 309.77 L420.65 309.76 L420.90 309.78 L421.15 309.71 L421.40 309.84 L421.65 309.81 L421.90 309.86 L422.15 309.53 L422.40 309.67 L422.65 309.75 L422.90 309.72 L423.15 309.71 L423.40 309.67 L423.65 309.73 L423.90 309.63 L424.15 309.63 L424.40 309.81 L424.65 309.60 L424.90 309.68 L425.15 309.61 L425.40 309.65 L425.65 309.59 L425.90 309.64 L426.15 309.65 L426.40 309.54 L426.65 309.51 L426.90 309.49 L427.15 309.46 L427.40 309.62 L427.65 309.63 L427.90 309.36 L428.15 309.43 L428.40 309.48 L428.65 309.52 L428.90 309.37 L429.15 309.40 L429.40 309.44 L429.65 309.48 L429.90 309.35 L430.15 309.49 L430.40 309.36 L430.65 309.50 L430.90 309.41 L431.15 309.44 L431.40 309.53 L431.65 309.52 L431.90 309.55 L432.15 309.50 L432.40 309.51 L432.65 309.63 L432.90 309.68 L433.15 309.59 L433.40 309.61 L433.65 309.53 L433.90 309.73 L434.15 309.59 L434.40 309.65 L434.65 309.74 L434.90 309.45 L435.15 309.64 L435.40 309.58 L435.65 309.66 L435.90 309.70 L436.15 309.61 L436.40 309.80 L436.65 309.90 L436.90 309.73 L437.15 309.76 L437.40 309.89 L437.65 309.81 L437.90 309.72 L438.15 309.85 L438.40 309.78 L438.65 309.93 L438.90 309.80 L439.15 309.96 L439.40 309.78 L439.65 309.87 L439.90 309.75 L440.15 310.09 L440.40 309.93 L440.65 309.91 L440.90 309.98 L441.15 309.97 L441.40 310.01 L441.65 310.15 L441.90 310.12 L442.15 309.98 L442.40 310.05 L442.65 310.03 L442.90 310.09 L443.15 309.99 L443.40 310.05 L443.65 309.98 L443.90 310.14 L444.15 310.06 L444.40 310.21 L444.65 310.15 L444.90 310.05 L445.15 310.28 L445.40 310.03 L445.65 310.39 L445.90 310.32 L446.15 310.32 L446.40 310.33 L446.65 310.28 L446.90 310.19 L447.15 310.14 L447.40 310.19 L447.65 310.01 L447.90 310.21 L448.15 310.17 L448.40 310.19 L448.65 310.13 L448.90 310.06 L449.15 310.16 L449.40 310.12 L449.65 310.12 L449.90 310.15 L450.15 310.20 L450.40 310.23 L450.65 310.05 L450.90 310.14 L451.15 309.99 L451.40 310.04 L451.65 310.04 L451.90 310.10 L452.15 310.11 L452.40 310.13 L452.65 310.11 L452.90 310.09 L453.15 310.00 L453.40 310.13 L453.65 310.02 L453.90 310.13 L454.15 310.06 L454.40 310.22 L454.65 310.00 L454.90 310.11 L455.15 310.15 L455.40 310.03 L455.65 310.04 L455.90 310.18 L456.15 310.12 L456.40 310.08 L456.65 310.01 L456.90 310.01 L457.15 309.93 L457.40 310.16 L457.65 310.04 L457.90 310.08 L458.15 310.13 L458.40 310.08 L458.65 310.01 L458.90 310.12 L459.15 309.89 L459.40 310.11 L459.65 310.05 L459.90 310.00 L460.15 310.04 L460.40 310.06 L460.65 309.92 L460.90 309.97 L461.15 309.90 L461.40 309.91 L461.65 309.96 L461.90 309.85 L462.15 309.79 L462.40 309.83 L462.65 309.94 L462.90 309.91 L463.15 309.86 L463.40 309.90 L463.65 309.75 L463.90 309.71 L464.15 309.68 L464.40 309.75 L464.65 309.73 L464.90 309.60 L465.15 309.84 L465.40 309.71 L465.65 309.52 L465.90 309.48 L466.15 309.61 L466.40 309.59 L466.65 309.48 L466.90 309.54 L467.15 309.52 L467.40 309.49 L467.65 309.58 L467.90 309.38 L468.15 309.44 L468.40 309.34 L468.65 309.42 L468.90 309.42 L469.15 309.54 L469.40 309.30 L469.65 309.37 L469.90 309.32 L470.15 309.32 L470.40 309.25 L470.65 309.20 L470.90 309.22 L471.15 309.19 L471.40 309.30 L471.65 309.20 L471.90 309.30 L472.15 309.12 L472.40 309.04 L472.65 309.11 L472.90 309.11 L473.15 309.27 L473.40 309.02 L473.65 309.14 L473.90 309.05 L474.15 309.01 L474.40 309.10 L474.65 308.98 L474.90 309.14 L475.15 309.05 L475.40 309.06 L475.65 309.00 L475.90 309.05 L476.15 309.09 L476.40 308.97 L476.65 309.02 L476.90 308.97 L477.15 309.01 L477.40 309.05 L477.65 308.91 L477.90 309.05 L478.15 309.01 L478.40 309.11 L478.65 308.97 L478.90 309.04 L479.15 309.05 L479.40 309.15 L479.65 309.07 L479.90 309.19 L480.15 309.14 L480.40 309.02 L480.65 309.00 L480.90 309.08 L481.15 309.14 L481.40 309.09 L481.65 309.03 L481.90 309.14 L482.15 309.09 L482.40 309.05 L482.65 309.14 L482.90 309.11 L483.15 309.01 L483.40 309.12 L483.65 309.16 L483.90 309.08 L484.15 309.04 L484.40 309.19 L484.65 309.22 L484.90 309.14 L485.15 309.17 L485.40 309.11 L485.65 309.17 L485.90 309.07 L486.15 309.15 L486.40 309.19 L486.65 309.14 L486.90 309.18" fill="none" stroke="#e2168a" stroke-width="1.3" stroke-linejoin="round"/>
<line x1="87.50" y1="323.3" x2="87.50" y2="326" stroke="#1a1a1a" stroke-width="3.2" stroke-linecap="round"/><line x1="123.80" y1="320.4" x2="123.80" y2="326" stroke="#1a1a1a" stroke-width="3.2" stroke-linecap="round"/><line x1="160.10" y1="323.3" x2="160.10" y2="326" stroke="#1a1a1a" stroke-width="3.2" stroke-linecap="round"/><line x1="196.40" y1="320.4" x2="196.40" y2="326" stroke="#1a1a1a" stroke-width="3.2" stroke-linecap="round"/><line x1="232.70" y1="323.3" x2="232.70" y2="326" stroke="#1a1a1a" stroke-width="3.2" stroke-linecap="round"/><line x1="269.00" y1="320.4" x2="269.00" y2="326" stroke="#1a1a1a" stroke-width="3.2" stroke-linecap="round"/><line x1="305.30" y1="323.3" x2="305.30" y2="326" stroke="#1a1a1a" stroke-width="3.2" stroke-linecap="round"/><line x1="341.60" y1="320.4" x2="341.60" y2="326" stroke="#1a1a1a" stroke-width="3.2" stroke-linecap="round"/><line x1="377.90" y1="323.3" x2="377.90" y2="326" stroke="#1a1a1a" stroke-width="3.2" stroke-linecap="round"/><line x1="414.20" y1="320.4" x2="414.20" y2="326" stroke="#1a1a1a" stroke-width="3.2" stroke-linecap="round"/><line x1="450.50" y1="323.3" x2="450.50" y2="326" stroke="#1a1a1a" stroke-width="3.2" stroke-linecap="round"/>
<rect x="51.4" y="3.15" width="435.6" height="323.45" fill="none" stroke="#1a1a1a" stroke-width="4" stroke-linejoin="round"/>
<text transform="translate(103.90 25.05) rotate(-90) scale(1.100 1)" class="hk" text-anchor="middle">(110)</text><text transform="translate(159.60 30.75) rotate(-90) scale(1.100 1)" class="hk" text-anchor="middle">(101)</text><text transform="translate(183.90 124.70) rotate(-90) scale(1.100 1)" class="hk" text-anchor="middle">(200)</text><text transform="translate(206.50 143.85) rotate(-90) scale(1.100 1)" class="hk" text-anchor="middle">(111)</text><text transform="translate(289.00 73.65) rotate(-90) scale(1.100 1)" class="hk" text-anchor="middle">(211)</text><text transform="translate(309.80 132.50) rotate(-90) scale(1.100 1)" class="hk" text-anchor="middle">(220)</text><text transform="translate(332.40 137.45) rotate(-90) scale(1.100 1)" class="hk" text-anchor="middle">(002)</text><text transform="translate(359.10 142.15) rotate(-90) scale(1.100 1)" class="hk" text-anchor="middle">(310)</text><text transform="translate(380.40 123.15) rotate(-90) scale(1.100 1)" class="hk" text-anchor="middle">(112)</text><text transform="translate(396.60 130.60) rotate(-90) scale(1.100 1)" class="hk" text-anchor="middle">(301)</text><text transform="translate(428.50 146.95) rotate(-90) scale(1.100 1)" class="hk" text-anchor="middle">(202)</text><text transform="translate(482.40 145.05) rotate(-90) scale(1.100 1)" class="hk" text-anchor="middle">(321)</text>
<text transform="translate(449.60 174.60) scale(1 1.020)" class="rt" text-anchor="middle">1:10</text><text transform="translate(450.50 210.50) scale(1 1.020)" class="rt" text-anchor="middle">1:8</text><text transform="translate(449.60 241.60) scale(1 1.020)" class="rt" text-anchor="middle">1:6</text><text transform="translate(448.60 274.50) scale(1 1.020)" class="rt" text-anchor="middle">1:4</text><text transform="translate(449.60 309.40) scale(1 1.020)" class="rt" text-anchor="middle">1:2</text>
<text transform="translate(51.20 353.6) scale(1 1.020)" text-anchor="middle" class="tk">20</text><text transform="translate(123.80 353.6) scale(1 1.020)" text-anchor="middle" class="tk">30</text><text transform="translate(196.40 353.6) scale(1 1.020)" text-anchor="middle" class="tk">40</text><text transform="translate(269.00 353.6) scale(1 1.020)" text-anchor="middle" class="tk">50</text><text transform="translate(341.60 353.6) scale(1 1.020)" text-anchor="middle" class="tk">60</text><text transform="translate(414.20 353.6) scale(1 1.020)" text-anchor="middle" class="tk">70</text><text transform="translate(486.80 353.6) scale(1 1.020)" text-anchor="middle" class="tk">80</text>
<text transform="translate(193.6 391.6) scale(1 1.04)" class="ax">2</text><text transform="translate(215.0 391.6) scale(0.87 0.96)" class="ax" text-anchor="middle">θ</text><text transform="translate(230.6 391.6) scale(1 1.04)" class="ax">(degrees)</text>
<text transform="translate(21 258.7) rotate(-90) scale(1 1.02)" class="ax" style="font-size:30px">Intensity (a.u)</text>
</svg>
</body></html>
